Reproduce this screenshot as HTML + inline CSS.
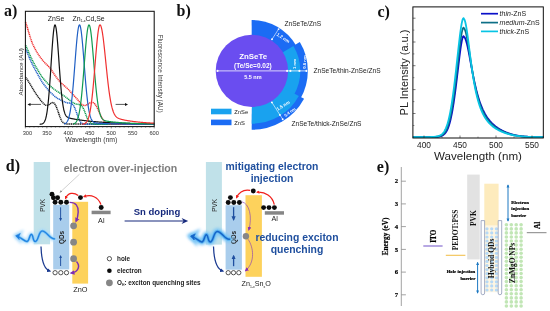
<!DOCTYPE html>
<html><head><meta charset="utf-8"><title>figure</title>
<style>
html,body{margin:0;padding:0;background:#fff;}
body{width:550px;height:311px;overflow:hidden;}
svg{display:block;}
.ss{font-family:"Liberation Sans",sans-serif;}
.sf{font-family:"Liberation Serif",serif;}
#fig{filter:blur(0.45px);}
</style></head><body>
<svg id="fig" width="550" height="311" viewBox="0 0 550 311">
<rect width="550" height="311" fill="#fff"/>
<defs>
<marker id="mr" viewBox="0 0 10 10" refX="6" refY="5" markerWidth="3.6" markerHeight="3.6" markerUnits="userSpaceOnUse" orient="auto-start-reverse"><path d="M0,0.5L10,5L0,9.5z" fill="#f0201c"/></marker>
<marker id="mp" viewBox="0 0 10 10" refX="6" refY="5" markerWidth="5" markerHeight="5" markerUnits="userSpaceOnUse" orient="auto-start-reverse"><path d="M0,0.5L10,5L0,9.5z" fill="#7d2db4"/></marker>
<marker id="mp2" viewBox="0 0 10 10" refX="7" refY="5" markerWidth="4.2" markerHeight="4.2" markerUnits="userSpaceOnUse" orient="auto-start-reverse"><path d="M0,0.5L10,5L0,9.5z" fill="#8a2fb8"/></marker>
<marker id="mb" viewBox="0 0 10 10" refX="7" refY="5" markerWidth="4.5" markerHeight="4.5" orient="auto-start-reverse"><path d="M0,0.5L10,5L0,9.5z" fill="#1f4fa0"/></marker>
<marker id="mb2" viewBox="0 0 10 10" refX="7" refY="5" markerWidth="3.6" markerHeight="3.6" orient="auto-start-reverse"><path d="M0,0.5L10,5L0,9.5z" fill="#1f4fa0"/></marker>
<marker id="mb3" viewBox="0 0 10 10" refX="6" refY="5" markerWidth="4.4" markerHeight="4.4" markerUnits="userSpaceOnUse" orient="auto-start-reverse"><path d="M0,0.5L10,5L0,9.5z" fill="#1a3a90"/></marker>
<marker id="mg" viewBox="0 0 10 10" refX="7" refY="5" markerWidth="6" markerHeight="6" orient="auto-start-reverse"><path d="M0,1L10,5L0,9z" fill="#888"/></marker>
<marker id="me" viewBox="0 0 10 10" refX="8" refY="5" markerWidth="3.2" markerHeight="3.2" markerUnits="userSpaceOnUse" orient="auto-start-reverse"><path d="M0,0.5L10,5L0,9.5z" fill="#1c78c2"/></marker>
<filter id="glow" filterUnits="userSpaceOnUse" x="0" y="215" width="80" height="45"><feGaussianBlur stdDeviation="1.6"/></filter>
<filter id="glow2" filterUnits="userSpaceOnUse" x="0" y="215" width="80" height="45"><feGaussianBlur stdDeviation="0.7"/></filter>
</defs>
<g id="pa">
<path d="M25.40,77.27 L25.72,77.56 L26.05,77.89 L26.37,78.27 L26.69,78.70 L27.01,79.17 L27.34,79.69 L27.66,80.22 L27.98,80.74 L28.31,81.26 L28.63,81.78 L28.95,82.31 L29.27,82.83 L29.60,83.36 L29.92,83.89 L30.24,84.42 L30.56,84.95 L30.89,85.48 L31.21,86.02 L31.53,86.56 L31.86,87.09 L32.18,87.63 L32.50,88.17 L32.82,88.71 L33.15,89.25 L33.47,89.78 L33.79,90.32 L34.12,90.86 L34.44,91.40 L34.76,91.92 L35.08,92.44 L35.41,92.95 L35.73,93.44 L36.05,93.93 L36.38,94.41 L36.70,94.88 L37.02,95.34 L37.34,95.78 L37.67,96.22 L37.99,96.65 L38.31,97.08 L38.64,97.51 L38.96,97.94 L39.28,98.37 L39.60,98.80 L39.93,99.24 L40.25,99.67 L40.57,100.09 L40.89,100.50 L41.22,100.90 L41.54,101.29 L41.86,101.67 L42.19,102.04 L42.51,102.40 L42.83,102.74 L43.15,103.08 L43.48,103.40 L43.80,103.71 L44.12,104.02 L44.45,104.32 L44.77,104.58 L45.09,104.81 L45.41,105.01 L45.74,105.17 L46.06,105.29 L46.38,105.38 L46.71,105.44 L47.03,105.45 L47.35,105.42 L47.67,105.33 L48.00,105.19 L48.32,105.04 L48.64,104.88 L48.96,104.69 L49.29,104.49 L49.61,104.28 L49.93,104.04 L50.26,103.80 L50.58,103.54 L50.90,103.28 L51.22,103.07 L51.55,102.89 L51.87,102.76 L52.19,102.67 L52.52,102.62 L52.84,102.61 L53.16,102.64 L53.48,102.73 L53.81,102.91 L54.13,103.20 L54.45,103.57 L54.78,104.01 L55.10,104.50 L55.42,105.04 L55.74,105.64 L56.07,106.30 L56.39,107.01 L56.71,107.80 L57.04,108.65 L57.36,109.52 L57.68,110.41 L58.00,111.32 L58.33,112.25 L58.65,113.20 L58.97,114.16 L59.29,115.09 L59.62,116.00 L59.94,116.88 L60.26,117.71 L60.59,118.50 L60.91,119.23 L61.23,119.93 L61.55,120.55 L61.88,121.09 L62.20,121.55 L62.52,121.94 L62.85,122.28 L63.17,122.60 L63.49,122.87 L63.81,123.11 L64.14,123.31 L64.46,123.47 L64.78,123.58 L65.11,123.67 L65.43,123.74 L65.75,123.81 L66.07,123.87 L66.40,123.91 L66.72,123.95 L67.04,123.98 L67.36,124.00 L67.69,124.01 L68.01,124.01 L68.33,124.01 L68.66,124.01 L68.98,124.01 L69.30,124.01 L69.62,124.01 L69.95,124.01 L70.27,124.01 L70.59,124.02 L70.92,124.02 L71.24,124.02 L71.56,124.02 L71.88,124.02 L72.21,124.02 L72.53,124.02 L72.85,124.02 L73.18,124.02 L73.50,124.03 L73.82,124.03 L74.14,124.03 L74.47,124.03 L74.79,124.03 L75.11,124.03 L75.44,124.03 L75.76,124.03 L76.08,124.03 L76.40,124.04 L76.73,124.04 L77.05,124.04 L77.37,124.04 L77.69,124.04 L78.02,124.04 L78.34,124.04 L78.66,124.04 L78.99,124.04 L79.31,124.05 L79.63,124.05 L79.95,124.05 L80.28,124.05 L80.60,124.05 L80.92,124.05 L81.25,124.05 L81.57,124.05 L81.89,124.05 L82.21,124.06 L82.54,124.06 L82.86,124.06 L83.18,124.06 L83.51,124.06 L83.83,124.06 L84.15,124.06 L84.47,124.06 L84.80,124.06 L85.12,124.07 L85.44,124.07 L85.76,124.07 L86.09,124.07 L86.41,124.07 L86.73,124.07 L87.06,124.07 L87.38,124.07 L87.70,124.07 L88.02,124.08 L88.35,124.08 L88.67,124.08 L88.99,124.08 L89.32,124.08 L89.64,124.08 L89.96,124.08 L90.28,124.08 L90.61,124.08 L90.93,124.08 L91.25,124.09 L91.58,124.09 L91.90,124.09 L92.22,124.09 L92.54,124.09 L92.87,124.09 L93.19,124.09 L93.51,124.09 L93.84,124.09 L94.16,124.10 L94.48,124.10 L94.80,124.10 L95.13,124.10 L95.45,124.10 L95.77,124.10 L96.09,124.10 L96.42,124.10 L96.74,124.10 L97.06,124.11 L97.39,124.11 L97.71,124.11 L98.03,124.11 L98.35,124.11 L98.68,124.11 L99.00,124.11 L99.32,124.11 L99.65,124.11 L99.97,124.12 L100.29,124.12 L100.61,124.12 L100.94,124.12 L101.26,124.12 L101.58,124.12 L101.91,124.12 L102.23,124.12 L102.55,124.12 L102.87,124.13 L103.20,124.13 L103.52,124.13 L103.84,124.13 L104.16,124.13 L104.49,124.13 L104.81,124.13 L105.13,124.13 L105.46,124.13 L105.78,124.14 L106.10,124.14 L106.42,124.14 L106.75,124.14 L107.07,124.14 L107.39,124.14 L107.72,124.14 L108.04,124.14 L108.36,124.14 L108.68,124.15 L109.01,124.15 L109.33,124.15 L109.65,124.15 L109.98,124.15 L110.30,124.15 L110.62,124.15 L110.94,124.15 L111.27,124.15 L111.59,124.16 L111.91,124.16 L112.24,124.16 L112.56,124.16 L112.88,124.16 L113.20,124.16 L113.53,124.16 L113.85,124.16 L114.17,124.16 L114.49,124.17 L114.82,124.17 L115.14,124.17 L115.46,124.17 L115.79,124.17 L116.11,124.17 L116.43,124.17 L116.75,124.17 L117.08,124.17 L117.40,124.18 L117.72,124.18 L118.05,124.18 L118.37,124.18 L118.69,124.18 L119.01,124.18 L119.34,124.18 L119.66,124.18 L119.98,124.18 L120.31,124.19 L120.63,124.19 L120.95,124.19 L121.27,124.19 L121.60,124.19 L121.92,124.19 L122.24,124.19 L122.56,124.19 L122.89,124.19 L123.21,124.20 L123.53,124.20 L123.86,124.20 L124.18,124.20 L124.50,124.20 L124.82,124.20 L125.15,124.20 L125.47,124.20 L125.79,124.20 L126.12,124.20 L126.44,124.21 L126.76,124.21 L127.08,124.21 L127.41,124.21 L127.73,124.21 L128.05,124.21 L128.38,124.21 L128.70,124.21 L129.02,124.21 L129.34,124.22 L129.67,124.22 L129.99,124.22 L130.31,124.22 L130.64,124.22 L130.96,124.22 L131.28,124.22 L131.60,124.22 L131.93,124.22 L132.25,124.23 L132.57,124.23 L132.89,124.23 L133.22,124.23 L133.54,124.23 L133.86,124.23 L134.19,124.23 L134.51,124.23 L134.83,124.23 L135.15,124.24 L135.48,124.24 L135.80,124.24 L136.12,124.24 L136.45,124.24 L136.77,124.24 L137.09,124.24 L137.41,124.24 L137.74,124.24 L138.06,124.25 L138.38,124.25 L138.71,124.25 L139.03,124.25 L139.35,124.25 L139.67,124.25 L140.00,124.25 L140.32,124.25 L140.64,124.25 L140.96,124.26 L141.29,124.26 L141.61,124.26 L141.93,124.26 L142.26,124.26 L142.58,124.26 L142.90,124.26 L143.22,124.26 L143.55,124.26 L143.87,124.27 L144.19,124.27 L144.52,124.27 L144.84,124.27 L145.16,124.27 L145.48,124.27 L145.81,124.27 L146.13,124.27 L146.45,124.27 L146.78,124.28 L147.10,124.28 L147.42,124.28 L147.74,124.28 L148.07,124.28 L148.39,124.28 L148.71,124.28 L149.04,124.28 L149.36,124.28 L149.68,124.29 L150.00,124.29 L150.33,124.29 L150.65,124.29 L150.97,124.29 L151.29,124.29 L151.62,124.29 L151.94,124.29 L152.26,124.29 L152.59,124.30 L152.91,124.30 L153.23,124.30 L153.55,124.30 L153.88,124.30 L154.20,124.30" fill="none" stroke="#1a1a1a" stroke-width="1.5" stroke-dasharray="1.2 0.6"/>
<path d="M25.40,48.88 L25.72,49.33 L26.05,49.85 L26.37,50.45 L26.69,51.13 L27.01,51.88 L27.34,52.70 L27.66,53.52 L27.98,54.35 L28.31,55.17 L28.63,55.99 L28.95,56.78 L29.27,57.56 L29.60,58.33 L29.92,59.08 L30.24,59.81 L30.56,60.53 L30.89,61.24 L31.21,61.92 L31.53,62.60 L31.86,63.25 L32.18,63.91 L32.50,64.56 L32.82,65.21 L33.15,65.86 L33.47,66.50 L33.79,67.13 L34.12,67.76 L34.44,68.38 L34.76,68.99 L35.08,69.60 L35.41,70.20 L35.73,70.79 L36.05,71.37 L36.38,71.95 L36.70,72.53 L37.02,73.10 L37.34,73.68 L37.67,74.26 L37.99,74.83 L38.31,75.41 L38.64,75.99 L38.96,76.56 L39.28,77.14 L39.60,77.72 L39.93,78.30 L40.25,78.87 L40.57,79.44 L40.89,79.99 L41.22,80.53 L41.54,81.06 L41.86,81.57 L42.19,82.06 L42.51,82.54 L42.83,83.01 L43.15,83.46 L43.48,83.89 L43.80,84.31 L44.12,84.73 L44.45,85.14 L44.77,85.56 L45.09,85.97 L45.41,86.39 L45.74,86.80 L46.06,87.22 L46.38,87.63 L46.71,88.05 L47.03,88.46 L47.35,88.88 L47.67,89.29 L48.00,89.68 L48.32,90.07 L48.64,90.44 L48.96,90.80 L49.29,91.16 L49.61,91.50 L49.93,91.83 L50.26,92.15 L50.58,92.47 L50.90,92.77 L51.22,93.07 L51.55,93.37 L51.87,93.67 L52.19,93.96 L52.52,94.26 L52.84,94.56 L53.16,94.86 L53.48,95.16 L53.81,95.46 L54.13,95.76 L54.45,96.06 L54.78,96.35 L55.10,96.62 L55.42,96.88 L55.74,97.14 L56.07,97.38 L56.39,97.61 L56.71,97.82 L57.04,98.03 L57.36,98.22 L57.68,98.41 L58.00,98.58 L58.33,98.76 L58.65,98.93 L58.97,99.11 L59.29,99.28 L59.62,99.46 L59.94,99.63 L60.26,99.80 L60.59,99.98 L60.91,100.15 L61.23,100.33 L61.55,100.50 L61.88,100.68 L62.20,100.84 L62.52,101.01 L62.85,101.16 L63.17,101.32 L63.49,101.47 L63.81,101.61 L64.14,101.75 L64.46,101.88 L64.78,102.01 L65.11,102.13 L65.43,102.25 L65.75,102.37 L66.07,102.49 L66.40,102.61 L66.72,102.71 L67.04,102.81 L67.36,102.89 L67.69,102.95 L68.01,103.01 L68.33,103.05 L68.66,103.08 L68.98,103.10 L69.30,103.10 L69.62,103.11 L69.95,103.14 L70.27,103.19 L70.59,103.26 L70.92,103.37 L71.24,103.50 L71.56,103.65 L71.88,103.84 L72.21,104.05 L72.53,104.31 L72.85,104.65 L73.18,105.07 L73.50,105.54 L73.82,106.07 L74.14,106.66 L74.47,107.30 L74.79,108.01 L75.11,108.78 L75.44,109.60 L75.76,110.48 L76.08,111.39 L76.40,112.30 L76.73,113.21 L77.05,114.12 L77.37,115.03 L77.69,115.94 L78.02,116.83 L78.34,117.66 L78.66,118.44 L78.99,119.17 L79.31,119.84 L79.63,120.47 L79.95,121.04 L80.28,121.56 L80.60,122.01 L80.92,122.39 L81.25,122.69 L81.57,122.93 L81.89,123.14 L82.21,123.33 L82.54,123.49 L82.86,123.62 L83.18,123.73 L83.51,123.82 L83.83,123.87 L84.15,123.92 L84.47,123.97 L84.80,124.01 L85.12,124.05 L85.44,124.09 L85.76,124.12 L86.09,124.14 L86.41,124.16 L86.73,124.18 L87.06,124.19 L87.38,124.20 L87.70,124.20 L88.02,124.20 L88.35,124.20 L88.67,124.20 L88.99,124.20 L89.32,124.20 L89.64,124.21 L89.96,124.21 L90.28,124.21 L90.61,124.21 L90.93,124.21 L91.25,124.21 L91.58,124.21 L91.90,124.21 L92.22,124.21 L92.54,124.21 L92.87,124.21 L93.19,124.21 L93.51,124.21 L93.84,124.21 L94.16,124.21 L94.48,124.21 L94.80,124.21 L95.13,124.21 L95.45,124.21 L95.77,124.21 L96.09,124.21 L96.42,124.22 L96.74,124.22 L97.06,124.22 L97.39,124.22 L97.71,124.22 L98.03,124.22 L98.35,124.22 L98.68,124.22 L99.00,124.22 L99.32,124.22 L99.65,124.22 L99.97,124.22 L100.29,124.22 L100.61,124.22 L100.94,124.22 L101.26,124.22 L101.58,124.22 L101.91,124.22 L102.23,124.22 L102.55,124.22 L102.87,124.22 L103.20,124.23 L103.52,124.23 L103.84,124.23 L104.16,124.23 L104.49,124.23 L104.81,124.23 L105.13,124.23 L105.46,124.23 L105.78,124.23 L106.10,124.23 L106.42,124.23 L106.75,124.23 L107.07,124.23 L107.39,124.23 L107.72,124.23 L108.04,124.23 L108.36,124.23 L108.68,124.23 L109.01,124.23 L109.33,124.23 L109.65,124.23 L109.98,124.24 L110.30,124.24 L110.62,124.24 L110.94,124.24 L111.27,124.24 L111.59,124.24 L111.91,124.24 L112.24,124.24 L112.56,124.24 L112.88,124.24 L113.20,124.24 L113.53,124.24 L113.85,124.24 L114.17,124.24 L114.49,124.24 L114.82,124.24 L115.14,124.24 L115.46,124.24 L115.79,124.24 L116.11,124.24 L116.43,124.24 L116.75,124.25 L117.08,124.25 L117.40,124.25 L117.72,124.25 L118.05,124.25 L118.37,124.25 L118.69,124.25 L119.01,124.25 L119.34,124.25 L119.66,124.25 L119.98,124.25 L120.31,124.25 L120.63,124.25 L120.95,124.25 L121.27,124.25 L121.60,124.25 L121.92,124.25 L122.24,124.25 L122.56,124.25 L122.89,124.25 L123.21,124.25 L123.53,124.26 L123.86,124.26 L124.18,124.26 L124.50,124.26 L124.82,124.26 L125.15,124.26 L125.47,124.26 L125.79,124.26 L126.12,124.26 L126.44,124.26 L126.76,124.26 L127.08,124.26 L127.41,124.26 L127.73,124.26 L128.05,124.26 L128.38,124.26 L128.70,124.26 L129.02,124.26 L129.34,124.26 L129.67,124.26 L129.99,124.26 L130.31,124.27 L130.64,124.27 L130.96,124.27 L131.28,124.27 L131.60,124.27 L131.93,124.27 L132.25,124.27 L132.57,124.27 L132.89,124.27 L133.22,124.27 L133.54,124.27 L133.86,124.27 L134.19,124.27 L134.51,124.27 L134.83,124.27 L135.15,124.27 L135.48,124.27 L135.80,124.27 L136.12,124.27 L136.45,124.27 L136.77,124.27 L137.09,124.28 L137.41,124.28 L137.74,124.28 L138.06,124.28 L138.38,124.28 L138.71,124.28 L139.03,124.28 L139.35,124.28 L139.67,124.28 L140.00,124.28 L140.32,124.28 L140.64,124.28 L140.96,124.28 L141.29,124.28 L141.61,124.28 L141.93,124.28 L142.26,124.28 L142.58,124.28 L142.90,124.28 L143.22,124.28 L143.55,124.28 L143.87,124.29 L144.19,124.29 L144.52,124.29 L144.84,124.29 L145.16,124.29 L145.48,124.29 L145.81,124.29 L146.13,124.29 L146.45,124.29 L146.78,124.29 L147.10,124.29 L147.42,124.29 L147.74,124.29 L148.07,124.29 L148.39,124.29 L148.71,124.29 L149.04,124.29 L149.36,124.29 L149.68,124.29 L150.00,124.29 L150.33,124.29 L150.65,124.30 L150.97,124.30 L151.29,124.30 L151.62,124.30 L151.94,124.30 L152.26,124.30 L152.59,124.30 L152.91,124.30 L153.23,124.30 L153.55,124.30 L153.88,124.30 L154.20,124.30" fill="none" stroke="#1f5fc4" stroke-width="1.5" stroke-dasharray="1.2 0.6"/>
<path d="M25.40,45.32 L25.72,45.75 L26.05,46.26 L26.37,46.83 L26.69,47.48 L27.01,48.19 L27.34,48.98 L27.66,49.77 L27.98,50.56 L28.31,51.35 L28.63,52.13 L28.95,52.90 L29.27,53.65 L29.60,54.39 L29.92,55.12 L30.24,55.84 L30.56,56.54 L30.89,57.23 L31.21,57.90 L31.53,58.56 L31.86,59.21 L32.18,59.86 L32.50,60.50 L32.82,61.15 L33.15,61.79 L33.47,62.41 L33.79,63.03 L34.12,63.64 L34.44,64.24 L34.76,64.83 L35.08,65.41 L35.41,65.98 L35.73,66.54 L36.05,67.09 L36.38,67.63 L36.70,68.16 L37.02,68.70 L37.34,69.24 L37.67,69.78 L37.99,70.32 L38.31,70.85 L38.64,71.39 L38.96,71.93 L39.28,72.47 L39.60,73.01 L39.93,73.54 L40.25,74.08 L40.57,74.61 L40.89,75.12 L41.22,75.62 L41.54,76.11 L41.86,76.57 L42.19,77.03 L42.51,77.46 L42.83,77.88 L43.15,78.29 L43.48,78.68 L43.80,79.06 L44.12,79.43 L44.45,79.79 L44.77,80.16 L45.09,80.53 L45.41,80.90 L45.74,81.27 L46.06,81.64 L46.38,82.01 L46.71,82.38 L47.03,82.75 L47.35,83.12 L47.67,83.48 L48.00,83.83 L48.32,84.17 L48.64,84.50 L48.96,84.83 L49.29,85.14 L49.61,85.45 L49.93,85.75 L50.26,86.04 L50.58,86.31 L50.90,86.58 L51.22,86.85 L51.55,87.12 L51.87,87.39 L52.19,87.66 L52.52,87.93 L52.84,88.20 L53.16,88.47 L53.48,88.73 L53.81,89.00 L54.13,89.25 L54.45,89.50 L54.78,89.74 L55.10,89.97 L55.42,90.20 L55.74,90.43 L56.07,90.64 L56.39,90.85 L56.71,91.06 L57.04,91.25 L57.36,91.45 L57.68,91.65 L58.00,91.85 L58.33,92.05 L58.65,92.25 L58.97,92.45 L59.29,92.65 L59.62,92.85 L59.94,93.05 L60.26,93.26 L60.59,93.47 L60.91,93.68 L61.23,93.90 L61.55,94.12 L61.88,94.34 L62.20,94.56 L62.52,94.79 L62.85,95.02 L63.17,95.25 L63.49,95.49 L63.81,95.72 L64.14,95.95 L64.46,96.18 L64.78,96.41 L65.11,96.64 L65.43,96.87 L65.75,97.11 L66.07,97.35 L66.40,97.59 L66.72,97.84 L67.04,98.08 L67.36,98.34 L67.69,98.59 L68.01,98.85 L68.33,99.11 L68.66,99.38 L68.98,99.65 L69.30,99.92 L69.62,100.19 L69.95,100.46 L70.27,100.72 L70.59,100.98 L70.92,101.23 L71.24,101.47 L71.56,101.70 L71.88,101.92 L72.21,102.13 L72.53,102.33 L72.85,102.53 L73.18,102.71 L73.50,102.89 L73.82,103.06 L74.14,103.23 L74.47,103.39 L74.79,103.55 L75.11,103.68 L75.44,103.81 L75.76,103.92 L76.08,104.02 L76.40,104.11 L76.73,104.18 L77.05,104.24 L77.37,104.28 L77.69,104.32 L78.02,104.36 L78.34,104.41 L78.66,104.46 L78.99,104.53 L79.31,104.60 L79.63,104.69 L79.95,104.78 L80.28,104.88 L80.60,105.02 L80.92,105.23 L81.25,105.49 L81.57,105.80 L81.89,106.16 L82.21,106.58 L82.54,107.05 L82.86,107.57 L83.18,108.15 L83.51,108.79 L83.83,109.50 L84.15,110.26 L84.47,111.04 L84.80,111.85 L85.12,112.68 L85.44,113.53 L85.76,114.41 L86.09,115.29 L86.41,116.14 L86.73,116.97 L87.06,117.77 L87.38,118.52 L87.70,119.22 L88.02,119.88 L88.35,120.49 L88.67,121.03 L88.99,121.48 L89.32,121.86 L89.64,122.19 L89.96,122.48 L90.28,122.74 L90.61,122.97 L90.93,123.17 L91.25,123.34 L91.58,123.47 L91.90,123.57 L92.22,123.67 L92.54,123.76 L92.87,123.84 L93.19,123.92 L93.51,123.98 L93.84,124.04 L94.16,124.09 L94.48,124.13 L94.80,124.16 L95.13,124.18 L95.45,124.20 L95.77,124.20 L96.09,124.20 L96.42,124.20 L96.74,124.20 L97.06,124.21 L97.39,124.21 L97.71,124.21 L98.03,124.21 L98.35,124.21 L98.68,124.21 L99.00,124.21 L99.32,124.21 L99.65,124.21 L99.97,124.21 L100.29,124.21 L100.61,124.21 L100.94,124.21 L101.26,124.21 L101.58,124.21 L101.91,124.21 L102.23,124.21 L102.55,124.21 L102.87,124.21 L103.20,124.22 L103.52,124.22 L103.84,124.22 L104.16,124.22 L104.49,124.22 L104.81,124.22 L105.13,124.22 L105.46,124.22 L105.78,124.22 L106.10,124.22 L106.42,124.22 L106.75,124.22 L107.07,124.22 L107.39,124.22 L107.72,124.22 L108.04,124.22 L108.36,124.22 L108.68,124.22 L109.01,124.23 L109.33,124.23 L109.65,124.23 L109.98,124.23 L110.30,124.23 L110.62,124.23 L110.94,124.23 L111.27,124.23 L111.59,124.23 L111.91,124.23 L112.24,124.23 L112.56,124.23 L112.88,124.23 L113.20,124.23 L113.53,124.23 L113.85,124.23 L114.17,124.23 L114.49,124.23 L114.82,124.23 L115.14,124.24 L115.46,124.24 L115.79,124.24 L116.11,124.24 L116.43,124.24 L116.75,124.24 L117.08,124.24 L117.40,124.24 L117.72,124.24 L118.05,124.24 L118.37,124.24 L118.69,124.24 L119.01,124.24 L119.34,124.24 L119.66,124.24 L119.98,124.24 L120.31,124.24 L120.63,124.24 L120.95,124.24 L121.27,124.25 L121.60,124.25 L121.92,124.25 L122.24,124.25 L122.56,124.25 L122.89,124.25 L123.21,124.25 L123.53,124.25 L123.86,124.25 L124.18,124.25 L124.50,124.25 L124.82,124.25 L125.15,124.25 L125.47,124.25 L125.79,124.25 L126.12,124.25 L126.44,124.25 L126.76,124.25 L127.08,124.26 L127.41,124.26 L127.73,124.26 L128.05,124.26 L128.38,124.26 L128.70,124.26 L129.02,124.26 L129.34,124.26 L129.67,124.26 L129.99,124.26 L130.31,124.26 L130.64,124.26 L130.96,124.26 L131.28,124.26 L131.60,124.26 L131.93,124.26 L132.25,124.26 L132.57,124.26 L132.89,124.26 L133.22,124.27 L133.54,124.27 L133.86,124.27 L134.19,124.27 L134.51,124.27 L134.83,124.27 L135.15,124.27 L135.48,124.27 L135.80,124.27 L136.12,124.27 L136.45,124.27 L136.77,124.27 L137.09,124.27 L137.41,124.27 L137.74,124.27 L138.06,124.27 L138.38,124.27 L138.71,124.27 L139.03,124.28 L139.35,124.28 L139.67,124.28 L140.00,124.28 L140.32,124.28 L140.64,124.28 L140.96,124.28 L141.29,124.28 L141.61,124.28 L141.93,124.28 L142.26,124.28 L142.58,124.28 L142.90,124.28 L143.22,124.28 L143.55,124.28 L143.87,124.28 L144.19,124.28 L144.52,124.28 L144.84,124.28 L145.16,124.29 L145.48,124.29 L145.81,124.29 L146.13,124.29 L146.45,124.29 L146.78,124.29 L147.10,124.29 L147.42,124.29 L147.74,124.29 L148.07,124.29 L148.39,124.29 L148.71,124.29 L149.04,124.29 L149.36,124.29 L149.68,124.29 L150.00,124.29 L150.33,124.29 L150.65,124.29 L150.97,124.29 L151.29,124.30 L151.62,124.30 L151.94,124.30 L152.26,124.30 L152.59,124.30 L152.91,124.30 L153.23,124.30 L153.55,124.30 L153.88,124.30 L154.20,124.30" fill="none" stroke="#109a50" stroke-width="1.5" stroke-dasharray="1.2 0.6"/>
<path d="M25.40,22.00 L25.72,22.65 L26.05,23.41 L26.37,24.28 L26.69,25.25 L27.01,26.31 L27.34,27.47 L27.66,28.62 L27.98,29.75 L28.31,30.87 L28.63,31.98 L28.95,33.08 L29.27,34.16 L29.60,35.23 L29.92,36.29 L30.24,37.32 L30.56,38.32 L30.89,39.28 L31.21,40.21 L31.53,41.11 L31.86,41.97 L32.18,42.79 L32.50,43.59 L32.82,44.35 L33.15,45.07 L33.47,45.76 L33.79,46.42 L34.12,47.07 L34.44,47.71 L34.76,48.33 L35.08,48.94 L35.41,49.53 L35.73,50.11 L36.05,50.68 L36.38,51.23 L36.70,51.76 L37.02,52.29 L37.34,52.82 L37.67,53.34 L37.99,53.86 L38.31,54.36 L38.64,54.86 L38.96,55.34 L39.28,55.82 L39.60,56.28 L39.93,56.74 L40.25,57.18 L40.57,57.61 L40.89,58.04 L41.22,58.45 L41.54,58.86 L41.86,59.27 L42.19,59.68 L42.51,60.09 L42.83,60.49 L43.15,60.88 L43.48,61.26 L43.80,61.63 L44.12,62.00 L44.45,62.35 L44.77,62.69 L45.09,63.03 L45.41,63.35 L45.74,63.67 L46.06,63.98 L46.38,64.29 L46.71,64.60 L47.03,64.91 L47.35,65.22 L47.67,65.53 L48.00,65.86 L48.32,66.19 L48.64,66.53 L48.96,66.88 L49.29,67.23 L49.61,67.59 L49.93,67.97 L50.26,68.37 L50.58,68.78 L50.90,69.22 L51.22,69.66 L51.55,70.12 L51.87,70.59 L52.19,71.06 L52.52,71.55 L52.84,72.06 L53.16,72.57 L53.48,73.08 L53.81,73.58 L54.13,74.08 L54.45,74.56 L54.78,75.04 L55.10,75.51 L55.42,75.97 L55.74,76.42 L56.07,76.86 L56.39,77.29 L56.71,77.71 L57.04,78.13 L57.36,78.55 L57.68,78.96 L58.00,79.38 L58.33,79.79 L58.65,80.19 L58.97,80.58 L59.29,80.96 L59.62,81.33 L59.94,81.68 L60.26,82.03 L60.59,82.36 L60.91,82.68 L61.23,82.99 L61.55,83.29 L61.88,83.58 L62.20,83.87 L62.52,84.16 L62.85,84.45 L63.17,84.74 L63.49,85.03 L63.81,85.32 L64.14,85.61 L64.46,85.89 L64.78,86.18 L65.11,86.47 L65.43,86.75 L65.75,87.03 L66.07,87.31 L66.40,87.60 L66.72,87.89 L67.04,88.18 L67.36,88.48 L67.69,88.79 L68.01,89.11 L68.33,89.43 L68.66,89.76 L68.98,90.10 L69.30,90.44 L69.62,90.79 L69.95,91.14 L70.27,91.50 L70.59,91.85 L70.92,92.21 L71.24,92.56 L71.56,92.92 L71.88,93.27 L72.21,93.63 L72.53,93.98 L72.85,94.34 L73.18,94.70 L73.50,95.05 L73.82,95.41 L74.14,95.76 L74.47,96.12 L74.79,96.48 L75.11,96.83 L75.44,97.19 L75.76,97.55 L76.08,97.90 L76.40,98.26 L76.73,98.62 L77.05,98.99 L77.37,99.36 L77.69,99.74 L78.02,100.12 L78.34,100.51 L78.66,100.90 L78.99,101.29 L79.31,101.69 L79.63,102.08 L79.95,102.45 L80.28,102.81 L80.60,103.15 L80.92,103.48 L81.25,103.79 L81.57,104.08 L81.89,104.35 L82.21,104.61 L82.54,104.83 L82.86,105.01 L83.18,105.16 L83.51,105.27 L83.83,105.36 L84.15,105.43 L84.47,105.46 L84.80,105.47 L85.12,105.45 L85.44,105.39 L85.76,105.30 L86.09,105.18 L86.41,105.06 L86.73,104.91 L87.06,104.75 L87.38,104.58 L87.70,104.39 L88.02,104.19 L88.35,103.98 L88.67,103.75 L88.99,103.51 L89.32,103.26 L89.64,103.04 L89.96,102.85 L90.28,102.69 L90.61,102.55 L90.93,102.44 L91.25,102.36 L91.58,102.31 L91.90,102.28 L92.22,102.28 L92.54,102.33 L92.87,102.45 L93.19,102.60 L93.51,102.80 L93.84,103.03 L94.16,103.30 L94.48,103.60 L94.80,103.95 L95.13,104.33 L95.45,104.75 L95.77,105.23 L96.09,105.76 L96.42,106.32 L96.74,106.90 L97.06,107.50 L97.39,108.14 L97.71,108.79 L98.03,109.47 L98.35,110.18 L98.68,110.90 L99.00,111.64 L99.32,112.36 L99.65,113.08 L99.97,113.78 L100.29,114.48 L100.61,115.17 L100.94,115.84 L101.26,116.51 L101.58,117.15 L101.91,117.75 L102.23,118.31 L102.55,118.85 L102.87,119.36 L103.20,119.85 L103.52,120.30 L103.84,120.72 L104.16,121.11 L104.49,121.47 L104.81,121.78 L105.13,122.05 L105.46,122.30 L105.78,122.53 L106.10,122.74 L106.42,122.93 L106.75,123.10 L107.07,123.24 L107.39,123.37 L107.72,123.47 L108.04,123.56 L108.36,123.65 L108.68,123.73 L109.01,123.80 L109.33,123.87 L109.65,123.93 L109.98,123.98 L110.30,124.02 L110.62,124.05 L110.94,124.08 L111.27,124.10 L111.59,124.11 L111.91,124.11 L112.24,124.11 L112.56,124.11 L112.88,124.11 L113.20,124.11 L113.53,124.12 L113.85,124.12 L114.17,124.12 L114.49,124.12 L114.82,124.12 L115.14,124.12 L115.46,124.12 L115.79,124.13 L116.11,124.13 L116.43,124.13 L116.75,124.13 L117.08,124.13 L117.40,124.13 L117.72,124.14 L118.05,124.14 L118.37,124.14 L118.69,124.14 L119.01,124.14 L119.34,124.14 L119.66,124.14 L119.98,124.15 L120.31,124.15 L120.63,124.15 L120.95,124.15 L121.27,124.15 L121.60,124.15 L121.92,124.15 L122.24,124.16 L122.56,124.16 L122.89,124.16 L123.21,124.16 L123.53,124.16 L123.86,124.16 L124.18,124.16 L124.50,124.17 L124.82,124.17 L125.15,124.17 L125.47,124.17 L125.79,124.17 L126.12,124.17 L126.44,124.17 L126.76,124.18 L127.08,124.18 L127.41,124.18 L127.73,124.18 L128.05,124.18 L128.38,124.18 L128.70,124.18 L129.02,124.19 L129.34,124.19 L129.67,124.19 L129.99,124.19 L130.31,124.19 L130.64,124.19 L130.96,124.20 L131.28,124.20 L131.60,124.20 L131.93,124.20 L132.25,124.20 L132.57,124.20 L132.89,124.20 L133.22,124.21 L133.54,124.21 L133.86,124.21 L134.19,124.21 L134.51,124.21 L134.83,124.21 L135.15,124.21 L135.48,124.22 L135.80,124.22 L136.12,124.22 L136.45,124.22 L136.77,124.22 L137.09,124.22 L137.41,124.22 L137.74,124.23 L138.06,124.23 L138.38,124.23 L138.71,124.23 L139.03,124.23 L139.35,124.23 L139.67,124.23 L140.00,124.24 L140.32,124.24 L140.64,124.24 L140.96,124.24 L141.29,124.24 L141.61,124.24 L141.93,124.25 L142.26,124.25 L142.58,124.25 L142.90,124.25 L143.22,124.25 L143.55,124.25 L143.87,124.25 L144.19,124.26 L144.52,124.26 L144.84,124.26 L145.16,124.26 L145.48,124.26 L145.81,124.26 L146.13,124.26 L146.45,124.27 L146.78,124.27 L147.10,124.27 L147.42,124.27 L147.74,124.27 L148.07,124.27 L148.39,124.27 L148.71,124.28 L149.04,124.28 L149.36,124.28 L149.68,124.28 L150.00,124.28 L150.33,124.28 L150.65,124.28 L150.97,124.29 L151.29,124.29 L151.62,124.29 L151.94,124.29 L152.26,124.29 L152.59,124.29 L152.91,124.29 L153.23,124.30 L153.55,124.30 L153.88,124.30 L154.20,124.30" fill="none" stroke="#f03030" stroke-width="1.5" stroke-dasharray="1.2 0.6"/>
<path d="M39.60,124.26 L39.93,124.24 L40.25,124.22 L40.57,124.19 L40.89,124.16 L41.22,124.11 L41.54,124.04 L41.86,123.96 L42.19,123.85 L42.51,123.71 L42.83,123.54 L43.15,123.31 L43.48,123.04 L43.80,122.69 L44.12,122.27 L44.45,121.75 L44.77,121.12 L45.09,120.36 L45.41,119.45 L45.74,118.38 L46.06,117.12 L46.38,115.65 L46.71,113.95 L47.03,111.99 L47.35,109.78 L47.67,107.27 L48.00,104.48 L48.32,101.38 L48.64,97.98 L48.96,94.28 L49.29,90.30 L49.61,86.04 L49.93,81.55 L50.26,76.86 L50.58,72.02 L50.90,67.07 L51.22,62.09 L51.55,57.13 L51.87,52.27 L52.19,47.58 L52.52,43.15 L52.84,39.05 L53.16,35.35 L53.48,32.13 L53.81,29.44 L54.13,27.34 L54.45,25.87 L54.78,25.06 L55.10,24.93 L55.42,25.42 L55.74,26.52 L56.07,28.20 L56.39,30.43 L56.71,33.17 L57.04,36.37 L57.36,39.97 L57.68,43.90 L58.00,48.10 L58.33,52.50 L58.65,57.02 L58.97,61.60 L59.29,66.18 L59.62,70.69 L59.94,75.09 L60.26,79.33 L60.59,83.37 L60.91,87.18 L61.23,90.74 L61.55,94.04 L61.88,97.07 L62.20,99.82 L62.52,102.30 L62.85,104.52 L63.17,106.49 L63.49,108.22 L63.81,109.74 L64.14,111.05 L64.46,112.18 L64.78,113.16 L65.11,113.99 L65.43,114.69 L65.75,115.28 L66.07,115.79 L66.40,116.21 L66.72,116.56 L67.04,116.86 L67.36,117.11 L67.69,117.32 L68.01,117.50 L68.33,117.66 L68.66,117.79 L68.98,117.91 L69.30,118.02 L69.62,118.11 L69.95,118.20 L70.27,118.28 L70.59,118.36 L70.92,118.43 L71.24,118.50 L71.56,118.57 L71.88,118.63 L72.21,118.69 L72.53,118.75 L72.85,118.82 L73.18,118.87 L73.50,118.93 L73.82,118.99 L74.14,119.05 L74.47,119.10 L74.79,119.16 L75.11,119.22 L75.44,119.27 L75.76,119.32 L76.08,119.38 L76.40,119.43 L76.73,119.48 L77.05,119.53 L77.37,119.58 L77.69,119.64 L78.02,119.68 L78.34,119.73 L78.66,119.78 L78.99,119.83 L79.31,119.88 L79.63,119.93 L79.95,119.97 L80.28,120.02 L80.60,120.07 L80.92,120.11 L81.25,120.16 L81.57,120.20 L81.89,120.24 L82.21,120.29 L82.54,120.33 L82.86,120.37 L83.18,120.41 L83.51,120.46 L83.83,120.50 L84.15,120.54 L84.47,120.58 L84.80,120.62 L85.12,120.66 L85.44,120.70 L85.76,120.74 L86.09,120.77 L86.41,120.81 L86.73,120.85 L87.06,120.89 L87.38,120.92 L87.70,120.96 L88.02,120.99 L88.35,121.03 L88.67,121.06 L88.99,121.10 L89.32,121.13 L89.64,121.17 L89.96,121.20 L90.28,121.23 L90.61,121.27 L90.93,121.30 L91.25,121.33 L91.58,121.36 L91.90,121.39 L92.22,121.43 L92.54,121.46 L92.87,121.49 L93.19,121.52 L93.51,121.55 L93.84,121.58 L94.16,121.61 L94.48,121.63 L94.80,121.66 L95.13,121.69 L95.45,121.72 L95.77,121.75 L96.09,121.77 L96.42,121.80 L96.74,121.83 L97.06,121.85 L97.39,121.88 L97.71,121.91 L98.03,121.93 L98.35,121.96 L98.68,121.98 L99.00,122.01 L99.32,122.03 L99.65,122.06 L99.97,122.08 L100.29,122.10 L100.61,122.13 L100.94,122.15 L101.26,122.17 L101.58,122.20 L101.91,122.22 L102.23,122.24 L102.55,122.26 L102.87,122.28 L103.20,122.31 L103.52,122.33 L103.84,122.35 L104.16,122.37 L104.49,122.39 L104.81,122.41 L105.13,122.43 L105.46,122.45 L105.78,122.47 L106.10,122.49 L106.42,122.51 L106.75,122.53 L107.07,122.55 L107.39,122.57 L107.72,122.59 L108.04,122.60 L108.36,122.62 L108.68,122.64 L109.01,122.66 L109.33,122.67 L109.65,122.69 L109.98,122.71 L110.30,122.73 L110.62,122.74 L110.94,122.76 L111.27,122.78 L111.59,122.79 L111.91,122.81 L112.24,122.82 L112.56,122.84 L112.88,122.86 L113.20,122.87 L113.53,122.89 L113.85,122.90 L114.17,122.92 L114.49,122.93 L114.82,122.95 L115.14,122.96 L115.46,122.98 L115.79,122.99 L116.11,123.00 L116.43,123.02 L116.75,123.03 L117.08,123.04 L117.40,123.06 L117.72,123.07 L118.05,123.08 L118.37,123.10 L118.69,123.11 L119.01,123.12 L119.34,123.14 L119.66,123.15 L119.98,123.16 L120.31,123.17 L120.63,123.18 L120.95,123.20 L121.27,123.21 L121.60,123.22 L121.92,123.23 L122.24,123.24 L122.56,123.25 L122.89,123.27 L123.21,123.28 L123.53,123.29 L123.86,123.30 L124.18,123.31 L124.50,123.32 L124.82,123.33 L125.15,123.34 L125.47,123.35 L125.79,123.36 L126.12,123.37 L126.44,123.38 L126.76,123.39 L127.08,123.40 L127.41,123.41 L127.73,123.42 L128.05,123.43 L128.38,123.44 L128.70,123.45 L129.02,123.46 L129.34,123.47 L129.67,123.47 L129.99,123.48 L130.31,123.49 L130.64,123.50 L130.96,123.51 L131.28,123.52 L131.60,123.53 L131.93,123.53 L132.25,123.54 L132.57,123.55 L132.89,123.56 L133.22,123.57 L133.54,123.57 L133.86,123.58 L134.19,123.59 L134.51,123.60 L134.83,123.61 L135.15,123.61 L135.48,123.62 L135.80,123.63 L136.12,123.63 L136.45,123.64 L136.77,123.65 L137.09,123.66 L137.41,123.66 L137.74,123.67 L138.06,123.68 L138.38,123.68 L138.71,123.69 L139.03,123.70 L139.35,123.70 L139.67,123.71 L140.00,123.72 L140.32,123.72 L140.64,123.73 L140.96,123.73 L141.29,123.74 L141.61,123.75 L141.93,123.75 L142.26,123.76 L142.58,123.76 L142.90,123.77 L143.22,123.77 L143.55,123.78 L143.87,123.79 L144.19,123.79 L144.52,123.80 L144.84,123.80 L145.16,123.81 L145.48,123.81 L145.81,123.82 L146.13,123.82 L146.45,123.83 L146.78,123.83 L147.10,123.84 L147.42,123.84 L147.74,123.85 L148.07,123.85 L148.39,123.86 L148.71,123.86 L149.04,123.87 L149.36,123.87 L149.68,123.88 L150.00,123.88 L150.33,123.89 L150.65,123.89 L150.97,123.89 L151.29,123.90 L151.62,123.90 L151.94,123.91 L152.26,123.91 L152.59,123.92 L152.91,123.92 L153.23,123.92 L153.55,123.93 L153.88,123.93 L154.20,123.94" fill="none" stroke="#111" stroke-width="1.2"/>
<path d="M64.14,123.92 L64.46,123.83 L64.78,123.70 L65.11,123.56 L65.43,123.38 L65.75,123.16 L66.07,122.90 L66.40,122.58 L66.72,122.21 L67.04,121.76 L67.36,121.24 L67.69,120.62 L68.01,119.91 L68.33,119.08 L68.66,118.12 L68.98,117.03 L69.30,115.79 L69.62,114.38 L69.95,112.79 L70.27,111.02 L70.59,109.05 L70.92,106.87 L71.24,104.49 L71.56,101.88 L71.88,99.05 L72.21,96.01 L72.53,92.76 L72.85,89.31 L73.18,85.67 L73.50,81.86 L73.82,77.91 L74.14,73.84 L74.47,69.67 L74.79,65.46 L75.11,61.23 L75.44,57.03 L75.76,52.90 L76.08,48.89 L76.40,45.05 L76.73,41.42 L77.05,38.05 L77.37,34.99 L77.69,32.27 L78.02,29.93 L78.34,28.01 L78.66,26.53 L78.99,25.52 L79.31,24.99 L79.63,24.94 L79.95,25.37 L80.28,26.27 L80.60,27.62 L80.92,29.41 L81.25,31.62 L81.57,34.20 L81.89,37.13 L82.21,40.37 L82.54,43.87 L82.86,47.59 L83.18,51.49 L83.51,55.51 L83.83,59.61 L84.15,63.76 L84.47,67.90 L84.80,72.00 L85.12,76.02 L85.44,79.93 L85.76,83.71 L86.09,87.33 L86.41,90.77 L86.73,94.01 L87.06,97.06 L87.38,99.89 L87.70,102.52 L88.02,104.93 L88.35,107.13 L88.67,109.13 L88.99,110.93 L89.32,112.55 L89.64,113.99 L89.96,115.27 L90.28,116.40 L90.61,117.39 L90.93,118.26 L91.25,119.01 L91.58,119.65 L91.90,120.21 L92.22,120.69 L92.54,121.10 L92.87,121.44 L93.19,121.74 L93.51,121.98 L93.84,122.19 L94.16,122.37 L94.48,122.51 L94.80,122.64 L95.13,122.74 L95.45,122.83 L95.77,122.90 L96.09,122.97 L96.42,123.02 L96.74,123.07 L97.06,123.11 L97.39,123.14 L97.71,123.18 L98.03,123.21 L98.35,123.23 L98.68,123.26 L99.00,123.28 L99.32,123.30 L99.65,123.32 L99.97,123.34 L100.29,123.36 L100.61,123.37 L100.94,123.39 L101.26,123.41 L101.58,123.42 L101.91,123.44 L102.23,123.46 L102.55,123.47 L102.87,123.49 L103.20,123.50 L103.52,123.51 L103.84,123.53 L104.16,123.54 L104.49,123.56 L104.81,123.57 L105.13,123.58 L105.46,123.59 L105.78,123.61 L106.10,123.62 L106.42,123.63 L106.75,123.64 L107.07,123.66 L107.39,123.67 L107.72,123.68 L108.04,123.69 L108.36,123.70 L108.68,123.71 L109.01,123.72 L109.33,123.73 L109.65,123.74 L109.98,123.75 L110.30,123.76 L110.62,123.77 L110.94,123.78 L111.27,123.79 L111.59,123.80 L111.91,123.81 L112.24,123.82 L112.56,123.82 L112.88,123.83 L113.20,123.84 L113.53,123.85 L113.85,123.86 L114.17,123.87 L114.49,123.87 L114.82,123.88 L115.14,123.89 L115.46,123.90 L115.79,123.90 L116.11,123.91 L116.43,123.92 L116.75,123.92 L117.08,123.93 L117.40,123.94 L117.72,123.94 L118.05,123.95 L118.37,123.96 L118.69,123.96 L119.01,123.97 L119.34,123.97 L119.66,123.98 L119.98,123.99 L120.31,123.99 L120.63,124.00 L120.95,124.00 L121.27,124.01 L121.60,124.01 L121.92,124.02 L122.24,124.02 L122.56,124.03 L122.89,124.03 L123.21,124.04 L123.53,124.04 L123.86,124.05 L124.18,124.05 L124.50,124.06 L124.82,124.06 L125.15,124.06 L125.47,124.07 L125.79,124.07 L126.12,124.08 L126.44,124.08 L126.76,124.08 L127.08,124.09 L127.41,124.09 L127.73,124.10 L128.05,124.10 L128.38,124.10 L128.70,124.11 L129.02,124.11 L129.34,124.11 L129.67,124.12 L129.99,124.12 L130.31,124.12 L130.64,124.13 L130.96,124.13 L131.28,124.13 L131.60,124.14 L131.93,124.14 L132.25,124.14 L132.57,124.14 L132.89,124.15 L133.22,124.15 L133.54,124.15 L133.86,124.15 L134.19,124.16 L134.51,124.16 L134.83,124.16 L135.15,124.16 L135.48,124.17 L135.80,124.17 L136.12,124.17 L136.45,124.17 L136.77,124.18 L137.09,124.18 L137.41,124.18 L137.74,124.18 L138.06,124.18 L138.38,124.19 L138.71,124.19 L139.03,124.19 L139.35,124.19 L139.67,124.19 L140.00,124.20 L140.32,124.20 L140.64,124.20 L140.96,124.20 L141.29,124.20 L141.61,124.21 L141.93,124.21 L142.26,124.21 L142.58,124.21 L142.90,124.21 L143.22,124.21 L143.55,124.22 L143.87,124.22 L144.19,124.22 L144.52,124.22 L144.84,124.22 L145.16,124.22 L145.48,124.22 L145.81,124.23 L146.13,124.23 L146.45,124.23 L146.78,124.23 L147.10,124.23 L147.42,124.23 L147.74,124.23 L148.07,124.23 L148.39,124.24 L148.71,124.24 L149.04,124.24 L149.36,124.24 L149.68,124.24 L150.00,124.24 L150.33,124.24 L150.65,124.24 L150.97,124.24 L151.29,124.24 L151.62,124.25 L151.94,124.25 L152.26,124.25 L152.59,124.25 L152.91,124.25 L153.23,124.25 L153.55,124.25 L153.88,124.25 L154.20,124.25" fill="none" stroke="#1f5fc4" stroke-width="1.2"/>
<path d="M73.18,123.96 L73.50,123.87 L73.82,123.76 L74.14,123.63 L74.47,123.47 L74.79,123.27 L75.11,123.04 L75.44,122.76 L75.76,122.42 L76.08,122.03 L76.40,121.56 L76.73,121.01 L77.05,120.38 L77.37,119.64 L77.69,118.79 L78.02,117.82 L78.34,116.71 L78.66,115.45 L78.99,114.03 L79.31,112.44 L79.63,110.67 L79.95,108.70 L80.28,106.54 L80.60,104.17 L80.92,101.60 L81.25,98.81 L81.57,95.82 L81.89,92.63 L82.21,89.25 L82.54,85.68 L82.86,81.96 L83.18,78.09 L83.51,74.11 L83.83,70.04 L84.15,65.92 L84.47,61.78 L84.80,57.67 L85.12,53.61 L85.44,49.66 L85.76,45.87 L86.09,42.26 L86.41,38.90 L86.73,35.81 L87.06,33.05 L87.38,30.64 L87.70,28.62 L88.02,27.02 L88.35,25.85 L88.67,25.14 L88.99,24.90 L89.32,25.11 L89.64,25.75 L89.96,26.82 L90.28,28.30 L90.61,30.18 L90.93,32.42 L91.25,35.00 L91.58,37.89 L91.90,41.05 L92.22,44.45 L92.54,48.03 L92.87,51.76 L93.19,55.60 L93.51,59.51 L93.84,63.45 L94.16,67.38 L94.48,71.26 L94.80,75.07 L95.13,78.78 L95.45,82.36 L95.77,85.79 L96.09,89.06 L96.42,92.15 L96.74,95.06 L97.06,97.77 L97.39,100.28 L97.71,102.60 L98.03,104.73 L98.35,106.66 L98.68,108.42 L99.00,110.01 L99.32,111.43 L99.65,112.70 L99.97,113.82 L100.29,114.82 L100.61,115.70 L100.94,116.47 L101.26,117.14 L101.58,117.72 L101.91,118.23 L102.23,118.67 L102.55,119.04 L102.87,119.37 L103.20,119.65 L103.52,119.89 L103.84,120.10 L104.16,120.28 L104.49,120.44 L104.81,120.57 L105.13,120.69 L105.46,120.80 L105.78,120.89 L106.10,120.97 L106.42,121.05 L106.75,121.12 L107.07,121.18 L107.39,121.24 L107.72,121.29 L108.04,121.35 L108.36,121.39 L108.68,121.44 L109.01,121.49 L109.33,121.53 L109.65,121.57 L109.98,121.61 L110.30,121.65 L110.62,121.69 L110.94,121.73 L111.27,121.77 L111.59,121.81 L111.91,121.84 L112.24,121.88 L112.56,121.91 L112.88,121.95 L113.20,121.98 L113.53,122.02 L113.85,122.05 L114.17,122.08 L114.49,122.12 L114.82,122.15 L115.14,122.18 L115.46,122.21 L115.79,122.24 L116.11,122.27 L116.43,122.30 L116.75,122.33 L117.08,122.36 L117.40,122.39 L117.72,122.41 L118.05,122.44 L118.37,122.47 L118.69,122.50 L119.01,122.52 L119.34,122.55 L119.66,122.57 L119.98,122.60 L120.31,122.62 L120.63,122.65 L120.95,122.67 L121.27,122.70 L121.60,122.72 L121.92,122.74 L122.24,122.76 L122.56,122.79 L122.89,122.81 L123.21,122.83 L123.53,122.85 L123.86,122.87 L124.18,122.89 L124.50,122.91 L124.82,122.93 L125.15,122.95 L125.47,122.97 L125.79,122.99 L126.12,123.01 L126.44,123.03 L126.76,123.05 L127.08,123.07 L127.41,123.09 L127.73,123.10 L128.05,123.12 L128.38,123.14 L128.70,123.15 L129.02,123.17 L129.34,123.19 L129.67,123.20 L129.99,123.22 L130.31,123.24 L130.64,123.25 L130.96,123.27 L131.28,123.28 L131.60,123.30 L131.93,123.31 L132.25,123.33 L132.57,123.34 L132.89,123.35 L133.22,123.37 L133.54,123.38 L133.86,123.39 L134.19,123.41 L134.51,123.42 L134.83,123.43 L135.15,123.45 L135.48,123.46 L135.80,123.47 L136.12,123.48 L136.45,123.49 L136.77,123.51 L137.09,123.52 L137.41,123.53 L137.74,123.54 L138.06,123.55 L138.38,123.56 L138.71,123.57 L139.03,123.58 L139.35,123.59 L139.67,123.60 L140.00,123.61 L140.32,123.62 L140.64,123.63 L140.96,123.64 L141.29,123.65 L141.61,123.66 L141.93,123.67 L142.26,123.68 L142.58,123.69 L142.90,123.70 L143.22,123.71 L143.55,123.72 L143.87,123.73 L144.19,123.73 L144.52,123.74 L144.84,123.75 L145.16,123.76 L145.48,123.77 L145.81,123.77 L146.13,123.78 L146.45,123.79 L146.78,123.80 L147.10,123.80 L147.42,123.81 L147.74,123.82 L148.07,123.83 L148.39,123.83 L148.71,123.84 L149.04,123.85 L149.36,123.85 L149.68,123.86 L150.00,123.87 L150.33,123.87 L150.65,123.88 L150.97,123.88 L151.29,123.89 L151.62,123.90 L151.94,123.90 L152.26,123.91 L152.59,123.91 L152.91,123.92 L153.23,123.92 L153.55,123.93 L153.88,123.94 L154.20,123.94" fill="none" stroke="#109a50" stroke-width="1.2"/>
<path d="M82.21,124.16 L82.54,124.13 L82.86,124.08 L83.18,124.02 L83.51,123.96 L83.83,123.87 L84.15,123.77 L84.47,123.64 L84.80,123.49 L85.12,123.31 L85.44,123.10 L85.76,122.84 L86.09,122.53 L86.41,122.18 L86.73,121.76 L87.06,121.27 L87.38,120.70 L87.70,120.04 L88.02,119.28 L88.35,118.42 L88.67,117.44 L88.99,116.33 L89.32,115.07 L89.64,113.67 L89.96,112.11 L90.28,110.38 L90.61,108.47 L90.93,106.38 L91.25,104.10 L91.58,101.63 L91.90,98.96 L92.22,96.11 L92.54,93.07 L92.87,89.85 L93.19,86.46 L93.51,82.93 L93.84,79.25 L94.16,75.47 L94.48,71.59 L94.80,67.65 L95.13,63.69 L95.45,59.72 L95.77,55.80 L96.09,51.95 L96.42,48.21 L96.74,44.63 L97.06,41.24 L97.39,38.08 L97.71,35.19 L98.03,32.61 L98.35,30.35 L98.68,28.46 L99.00,26.95 L99.32,25.84 L99.65,25.16 L99.97,24.90 L100.29,25.02 L100.61,25.42 L100.94,26.11 L101.26,27.08 L101.58,28.32 L101.91,29.82 L102.23,31.58 L102.55,33.56 L102.87,35.76 L103.20,38.16 L103.52,40.74 L103.84,43.47 L104.16,46.33 L104.49,49.31 L104.81,52.37 L105.13,55.49 L105.46,58.65 L105.78,61.83 L106.10,65.01 L106.42,68.17 L106.75,71.29 L107.07,74.35 L107.39,77.34 L107.72,80.25 L108.04,83.06 L108.36,85.76 L108.68,88.34 L109.01,90.81 L109.33,93.14 L109.65,95.35 L109.98,97.43 L110.30,99.38 L110.62,101.19 L110.94,102.88 L111.27,104.45 L111.59,105.89 L111.91,107.22 L112.24,108.43 L112.56,109.55 L112.88,110.56 L113.20,111.48 L113.53,112.31 L113.85,113.07 L114.17,113.75 L114.49,114.36 L114.82,114.91 L115.14,115.40 L115.46,115.85 L115.79,116.24 L116.11,116.60 L116.43,116.92 L116.75,117.20 L117.08,117.46 L117.40,117.69 L117.72,117.90 L118.05,118.09 L118.37,118.26 L118.69,118.42 L119.01,118.56 L119.34,118.69 L119.66,118.81 L119.98,118.93 L120.31,119.03 L120.63,119.13 L120.95,119.23 L121.27,119.32 L121.60,119.40 L121.92,119.48 L122.24,119.56 L122.56,119.64 L122.89,119.71 L123.21,119.78 L123.53,119.85 L123.86,119.92 L124.18,119.99 L124.50,120.05 L124.82,120.11 L125.15,120.18 L125.47,120.24 L125.79,120.30 L126.12,120.36 L126.44,120.41 L126.76,120.47 L127.08,120.53 L127.41,120.58 L127.73,120.64 L128.05,120.69 L128.38,120.74 L128.70,120.79 L129.02,120.84 L129.34,120.90 L129.67,120.94 L129.99,120.99 L130.31,121.04 L130.64,121.09 L130.96,121.14 L131.28,121.18 L131.60,121.23 L131.93,121.27 L132.25,121.32 L132.57,121.36 L132.89,121.40 L133.22,121.45 L133.54,121.49 L133.86,121.53 L134.19,121.57 L134.51,121.61 L134.83,121.65 L135.15,121.69 L135.48,121.72 L135.80,121.76 L136.12,121.80 L136.45,121.83 L136.77,121.87 L137.09,121.91 L137.41,121.94 L137.74,121.98 L138.06,122.01 L138.38,122.04 L138.71,122.08 L139.03,122.11 L139.35,122.14 L139.67,122.17 L140.00,122.20 L140.32,122.23 L140.64,122.26 L140.96,122.29 L141.29,122.32 L141.61,122.35 L141.93,122.38 L142.26,122.41 L142.58,122.43 L142.90,122.46 L143.22,122.49 L143.55,122.51 L143.87,122.54 L144.19,122.57 L144.52,122.59 L144.84,122.62 L145.16,122.64 L145.48,122.67 L145.81,122.69 L146.13,122.71 L146.45,122.74 L146.78,122.76 L147.10,122.78 L147.42,122.80 L147.74,122.82 L148.07,122.85 L148.39,122.87 L148.71,122.89 L149.04,122.91 L149.36,122.93 L149.68,122.95 L150.00,122.97 L150.33,122.99 L150.65,123.01 L150.97,123.03 L151.29,123.04 L151.62,123.06 L151.94,123.08 L152.26,123.10 L152.59,123.12 L152.91,123.13 L153.23,123.15 L153.55,123.17 L153.88,123.18 L154.20,123.20" fill="none" stroke="#f03030" stroke-width="1.2"/>
<rect x="25.4" y="11.3" width="128.79999999999998" height="115.3" fill="none" stroke="#111" stroke-width="1.05"/>
<line x1="25.40" y1="126.6" x2="25.40" y2="128.4" stroke="#222" stroke-width="0.5"/>
<line x1="29.69" y1="126.6" x2="29.69" y2="127.6" stroke="#222" stroke-width="0.5"/>
<line x1="33.99" y1="126.6" x2="33.99" y2="127.6" stroke="#222" stroke-width="0.5"/>
<line x1="38.28" y1="126.6" x2="38.28" y2="127.6" stroke="#222" stroke-width="0.5"/>
<line x1="42.57" y1="126.6" x2="42.57" y2="127.6" stroke="#222" stroke-width="0.5"/>
<line x1="46.87" y1="126.6" x2="46.87" y2="128.4" stroke="#222" stroke-width="0.5"/>
<line x1="51.16" y1="126.6" x2="51.16" y2="127.6" stroke="#222" stroke-width="0.5"/>
<line x1="55.45" y1="126.6" x2="55.45" y2="127.6" stroke="#222" stroke-width="0.5"/>
<line x1="59.75" y1="126.6" x2="59.75" y2="127.6" stroke="#222" stroke-width="0.5"/>
<line x1="64.04" y1="126.6" x2="64.04" y2="127.6" stroke="#222" stroke-width="0.5"/>
<line x1="68.33" y1="126.6" x2="68.33" y2="128.4" stroke="#222" stroke-width="0.5"/>
<line x1="72.63" y1="126.6" x2="72.63" y2="127.6" stroke="#222" stroke-width="0.5"/>
<line x1="76.92" y1="126.6" x2="76.92" y2="127.6" stroke="#222" stroke-width="0.5"/>
<line x1="81.21" y1="126.6" x2="81.21" y2="127.6" stroke="#222" stroke-width="0.5"/>
<line x1="85.51" y1="126.6" x2="85.51" y2="127.6" stroke="#222" stroke-width="0.5"/>
<line x1="89.80" y1="126.6" x2="89.80" y2="128.4" stroke="#222" stroke-width="0.5"/>
<line x1="94.09" y1="126.6" x2="94.09" y2="127.6" stroke="#222" stroke-width="0.5"/>
<line x1="98.39" y1="126.6" x2="98.39" y2="127.6" stroke="#222" stroke-width="0.5"/>
<line x1="102.68" y1="126.6" x2="102.68" y2="127.6" stroke="#222" stroke-width="0.5"/>
<line x1="106.97" y1="126.6" x2="106.97" y2="127.6" stroke="#222" stroke-width="0.5"/>
<line x1="111.27" y1="126.6" x2="111.27" y2="128.4" stroke="#222" stroke-width="0.5"/>
<line x1="115.56" y1="126.6" x2="115.56" y2="127.6" stroke="#222" stroke-width="0.5"/>
<line x1="119.85" y1="126.6" x2="119.85" y2="127.6" stroke="#222" stroke-width="0.5"/>
<line x1="124.15" y1="126.6" x2="124.15" y2="127.6" stroke="#222" stroke-width="0.5"/>
<line x1="128.44" y1="126.6" x2="128.44" y2="127.6" stroke="#222" stroke-width="0.5"/>
<line x1="132.73" y1="126.6" x2="132.73" y2="128.4" stroke="#222" stroke-width="0.5"/>
<line x1="137.03" y1="126.6" x2="137.03" y2="127.6" stroke="#222" stroke-width="0.5"/>
<line x1="141.32" y1="126.6" x2="141.32" y2="127.6" stroke="#222" stroke-width="0.5"/>
<line x1="145.61" y1="126.6" x2="145.61" y2="127.6" stroke="#222" stroke-width="0.5"/>
<line x1="149.91" y1="126.6" x2="149.91" y2="127.6" stroke="#222" stroke-width="0.5"/>
<line x1="154.20" y1="126.6" x2="154.20" y2="128.4" stroke="#222" stroke-width="0.5"/>
<text x="27.4" y="134.7" font-size="5.7" text-anchor="middle" fill="#333" class="ss">300</text>
<text x="46.9" y="134.7" font-size="5.7" text-anchor="middle" fill="#333" class="ss">350</text>
<text x="68.3" y="134.7" font-size="5.7" text-anchor="middle" fill="#333" class="ss">400</text>
<text x="89.8" y="134.7" font-size="5.7" text-anchor="middle" fill="#333" class="ss">450</text>
<text x="111.3" y="134.7" font-size="5.7" text-anchor="middle" fill="#333" class="ss">500</text>
<text x="132.7" y="134.7" font-size="5.7" text-anchor="middle" fill="#333" class="ss">550</text>
<text x="154.2" y="134.7" font-size="5.7" text-anchor="middle" fill="#333" class="ss">600</text>
<text x="91.3" y="141.9" font-size="6.9" text-anchor="middle" fill="#333" class="ss">Wavelength (nm)</text>
<text transform="translate(22.6,71.8) rotate(-90)" font-size="6.2" text-anchor="middle" fill="#333" class="ss">Absorbance (AU)</text>
<text transform="translate(157.6,73.7) rotate(90)" font-size="6.3" text-anchor="middle" fill="#333" class="ss">Fluorescence Intensity (AU)</text>
<text x="56" y="21.2" font-size="6.9" text-anchor="middle" fill="#222" class="ss">ZnSe</text>
<text x="88.6" y="21.2" font-size="6.9" text-anchor="middle" fill="#222" class="ss">Zn<tspan font-size="3.6" dy="1.2">1-x</tspan><tspan dy="-1.2">Cd</tspan><tspan font-size="3.6" dy="1.2">x</tspan><tspan dy="-1.2">Se</tspan></text>
<path d="M41,104.4H29.5" stroke="#111" stroke-width="0.7" fill="none"/><path d="M27.5,104.4l3,-1.5v3z" fill="#111"/>
<path d="M115.6,104.4H126" stroke="#111" stroke-width="0.7" fill="none"/><path d="M128,104.4l-3,-1.5v3z" fill="#111"/>
</g>
<g id="pb">
<path d="M251.63,19.90 A51,51 0 0 1 296.07,45.40 L251.90,70.90 A0,0 0 0 0 251.90,70.90Z" fill="#1b6cf4"/>
<path d="M299.82,42.11 A55.9,55.9 0 0 1 300.55,98.43 L251.90,70.90 A0,0 0 0 0 251.90,70.90Z" fill="#1b6cf4"/>
<path d="M304.07,98.78 A58.8,58.8 0 0 1 251.68,129.70 L252.30,70.90 A0,0 0 0 0 252.30,70.90Z" fill="#1b6cf4"/>
<path d="M293.39,45.97 A48.4,48.4 0 0 1 294.03,94.73 L251.90,70.90 A0,0 0 0 0 251.90,70.90Z" fill="#19a2ef"/>
<path d="M298.79,95.93 A52.8,52.8 0 0 1 251.75,123.70 L252.30,70.90 A0,0 0 0 0 252.30,70.90Z" fill="#19a2ef"/>
<circle cx="251.9" cy="70.9" r="36.2" fill="#6a4df0"/>
<path d="M217.29999999999998,70.9H306.9" stroke="#fff" stroke-width="0.75" fill="none"/>
<circle cx="217.5" cy="70.9" r="1.05" fill="#fff"/>
<circle cx="287.1" cy="70.9" r="1.05" fill="#fff"/>
<circle cx="290.4" cy="70.9" r="1.05" fill="#fff"/>
<circle cx="299.4" cy="70.9" r="1.05" fill="#fff"/>
<circle cx="306.4" cy="70.9" r="1.05" fill="#fff"/>
<text x="253.1" y="59.2" font-size="7.9" font-weight="bold" text-anchor="middle" fill="#fff" class="ss">ZnSeTe</text>
<text x="252.9" y="67.8" font-size="6.5" font-weight="bold" text-anchor="middle" fill="#fff" class="ss">(Te/Se=0.02)</text>
<text x="252.9" y="79" font-size="5.5" font-weight="bold" text-anchor="middle" fill="#fff" class="ss">5.5 nm</text>
<path d="M272.0,39.3L278.6,29.1" stroke="#fff" stroke-width="0.6"/>
<circle cx="272.0" cy="39.3" r="0.95" fill="#fff"/><circle cx="278.6" cy="29.1" r="0.95" fill="#fff"/>
<text transform="translate(282.3,39.2) rotate(33)" font-size="4.6" font-weight="bold" text-anchor="middle" fill="#fff" class="ss">1.2 nm</text>
<path d="M271.9,102.4L282.7,119.2" stroke="#fff" stroke-width="0.6"/>
<circle cx="271.9" cy="102.4" r="0.95" fill="#fff"/>
<circle cx="279.9" cy="114.9" r="0.95" fill="#fff"/>
<circle cx="282.7" cy="119.2" r="0.95" fill="#fff"/>
<text transform="translate(284,107) rotate(-31)" font-size="4.6" font-weight="bold" text-anchor="middle" fill="#fff" class="ss">1.5 nm</text>
<text transform="translate(290.7,113.3) rotate(-35)" font-size="4.1" font-weight="bold" text-anchor="middle" fill="#fff" class="ss">0.4 nm</text>
<text transform="translate(296.1,64) rotate(-90)" font-size="4.2" font-weight="bold" text-anchor="middle" fill="#fff" class="ss">1 nm</text>
<text transform="translate(306.2,62) rotate(-90)" font-size="4.2" font-weight="bold" text-anchor="middle" fill="#fff" class="ss">0.8 nm</text>
<rect x="211" y="108.7" width="20.5" height="5.6" fill="#19a2ef"/>
<rect x="211" y="119.6" width="20.5" height="5.6" fill="#1b6cf4"/>
<text x="234.3" y="113.7" font-size="5.8" fill="#222" class="ss">ZnSe</text>
<text x="234.3" y="124.6" font-size="5.8" fill="#222" class="ss">ZnS</text>
<text x="284.5" y="25.8" font-size="6.6" fill="#222" class="ss">ZnSeTe/ZnS</text>
<text x="313.5" y="73.2" font-size="6.6" fill="#222" class="ss">ZnSeTe/thin-ZnSe/ZnS</text>
<text x="291.5" y="126.3" font-size="6.6" fill="#222" class="ss">ZnSeTe/thick-ZnSe/ZnS</text>
</g>
<g id="pc">
<path d="M412.90,137.20 L413.16,137.20 L413.42,137.20 L413.68,137.20 L413.95,137.20 L414.21,137.20 L414.47,137.20 L414.73,137.20 L414.99,137.20 L415.25,137.20 L415.51,137.20 L415.77,137.20 L416.04,137.20 L416.30,137.20 L416.56,137.20 L416.82,137.20 L417.08,137.19 L417.34,137.19 L417.60,137.19 L417.87,137.19 L418.13,137.19 L418.39,137.19 L418.65,137.19 L418.91,137.19 L419.17,137.19 L419.43,137.19 L419.69,137.19 L419.96,137.19 L420.22,137.19 L420.48,137.19 L420.74,137.19 L421.00,137.19 L421.26,137.19 L421.52,137.19 L421.78,137.19 L422.05,137.18 L422.31,137.18 L422.57,137.18 L422.83,137.18 L423.09,137.18 L423.35,137.18 L423.61,137.18 L423.88,137.18 L424.14,137.18 L424.40,137.18 L424.66,137.17 L424.92,137.17 L425.18,137.17 L425.44,137.17 L425.70,137.17 L425.97,137.17 L426.23,137.16 L426.49,137.16 L426.75,137.16 L427.01,137.16 L427.27,137.16 L427.53,137.15 L427.80,137.15 L428.06,137.15 L428.32,137.14 L428.58,137.14 L428.84,137.14 L429.10,137.14 L429.36,137.13 L429.62,137.13 L429.89,137.12 L430.15,137.12 L430.41,137.12 L430.67,137.11 L430.93,137.11 L431.19,137.10 L431.45,137.10 L431.72,137.09 L431.98,137.08 L432.24,137.08 L432.50,137.07 L432.76,137.06 L433.02,137.06 L433.28,137.05 L433.54,137.04 L433.81,137.03 L434.07,137.02 L434.33,137.01 L434.59,137.00 L434.85,136.99 L435.11,136.97 L435.37,136.96 L435.64,136.94 L435.90,136.93 L436.16,136.91 L436.42,136.89 L436.68,136.87 L436.94,136.85 L437.20,136.82 L437.46,136.80 L437.73,136.77 L437.99,136.74 L438.25,136.70 L438.51,136.66 L438.77,136.62 L439.03,136.58 L439.29,136.53 L439.55,136.48 L439.82,136.42 L440.08,136.36 L440.34,136.29 L440.60,136.22 L440.86,136.14 L441.12,136.05 L441.38,135.96 L441.65,135.85 L441.91,135.74 L442.17,135.62 L442.43,135.48 L442.69,135.34 L442.95,135.18 L443.21,135.01 L443.47,134.82 L443.74,134.62 L444.00,134.41 L444.26,134.17 L444.52,133.92 L444.78,133.64 L445.04,133.35 L445.30,133.03 L445.57,132.69 L445.83,132.32 L446.09,131.93 L446.35,131.51 L446.61,131.05 L446.87,130.57 L447.13,130.06 L447.39,129.51 L447.66,128.92 L447.92,128.30 L448.18,127.63 L448.44,126.93 L448.70,126.19 L448.96,125.40 L449.22,124.57 L449.49,123.69 L449.75,122.76 L450.01,121.79 L450.27,120.77 L450.53,119.69 L450.79,118.57 L451.05,117.39 L451.31,116.17 L451.58,114.88 L451.84,113.55 L452.10,112.16 L452.36,110.72 L452.62,109.23 L452.88,107.68 L453.14,106.08 L453.41,104.44 L453.67,102.74 L453.93,100.99 L454.19,99.19 L454.45,97.35 L454.71,95.46 L454.97,93.54 L455.23,91.57 L455.50,89.56 L455.76,87.52 L456.02,85.45 L456.28,83.35 L456.54,81.22 L456.80,79.07 L457.06,76.90 L457.32,74.71 L457.59,72.52 L457.85,70.31 L458.11,68.11 L458.37,65.91 L458.63,63.72 L458.89,61.54 L459.15,59.39 L459.42,57.26 L459.68,55.17 L459.94,53.13 L460.20,51.15 L460.46,49.23 L460.72,47.39 L460.98,45.64 L461.24,44.00 L461.51,42.48 L461.77,41.09 L462.03,39.85 L462.29,38.77 L462.55,37.86 L462.81,37.15 L463.07,36.62 L463.34,36.31 L463.60,36.20 L463.86,36.67 L464.12,36.82 L464.38,37.07 L464.64,37.40 L464.90,37.83 L465.16,38.35 L465.43,38.95 L465.69,39.63 L465.95,40.39 L466.21,41.22 L466.47,42.13 L466.73,43.10 L466.99,44.13 L467.26,45.22 L467.52,46.37 L467.78,47.56 L468.04,48.79 L468.30,50.06 L468.56,51.37 L468.82,52.70 L469.08,54.06 L469.35,55.44 L469.61,56.84 L469.87,58.25 L470.13,59.67 L470.39,61.09 L470.65,62.51 L470.91,63.94 L471.17,65.36 L471.44,66.77 L471.70,68.18 L471.96,69.57 L472.22,70.95 L472.48,72.32 L472.74,73.67 L473.00,75.00 L473.27,76.32 L473.53,77.62 L473.79,78.89 L474.05,80.14 L474.31,81.38 L474.57,82.59 L474.83,83.77 L475.09,84.94 L475.36,86.08 L475.62,87.19 L475.88,88.29 L476.14,89.35 L476.40,90.40 L476.66,91.42 L476.92,92.42 L477.19,93.40 L477.45,94.35 L477.71,95.29 L477.97,96.20 L478.23,97.08 L478.49,97.95 L478.75,98.80 L479.01,99.62 L479.28,100.43 L479.54,101.21 L479.80,101.98 L480.06,102.73 L480.32,103.46 L480.58,104.17 L480.84,104.86 L481.11,105.54 L481.37,106.20 L481.63,106.85 L481.89,107.47 L482.15,108.09 L482.41,108.68 L482.67,109.27 L482.93,109.84 L483.20,110.39 L483.46,110.93 L483.72,111.46 L483.98,111.98 L484.24,112.48 L484.50,112.97 L484.76,113.45 L485.03,113.92 L485.29,114.38 L485.55,114.83 L485.81,115.27 L486.07,115.69 L486.33,116.11 L486.59,116.52 L486.85,116.92 L487.12,117.30 L487.38,117.68 L487.64,118.06 L487.90,118.42 L488.16,118.78 L488.42,119.13 L488.68,119.47 L488.94,119.80 L489.21,120.13 L489.47,120.44 L489.73,120.76 L489.99,121.06 L490.25,121.36 L490.51,121.66 L490.77,121.95 L491.04,122.23 L491.30,122.50 L491.56,122.77 L491.82,123.04 L492.08,123.30 L492.34,123.56 L492.60,123.81 L492.86,124.05 L493.13,124.29 L493.39,124.53 L493.65,124.76 L493.91,124.99 L494.17,125.21 L494.43,125.43 L494.69,125.65 L494.96,125.86 L495.22,126.07 L495.48,126.28 L495.74,126.48 L496.00,126.67 L496.26,126.87 L496.52,127.06 L496.78,127.25 L497.05,127.43 L497.31,127.62 L497.57,127.79 L497.83,127.97 L498.09,128.14 L498.35,128.31 L498.61,128.48 L498.88,128.65 L499.14,128.81 L499.40,128.97 L499.66,129.13 L499.92,129.28 L500.18,129.44 L500.44,129.59 L500.70,129.73 L500.97,129.88 L501.23,130.02 L501.49,130.17 L501.75,130.30 L502.01,130.44 L502.27,130.58 L502.53,130.71 L502.79,130.84 L503.06,130.97 L503.32,131.10 L503.58,131.23 L503.84,131.35 L504.10,131.47 L504.36,131.59 L504.62,131.71 L504.89,131.83 L505.15,131.94 L505.41,132.05 L505.67,132.17 L505.93,132.28 L506.19,132.38 L506.45,132.49 L506.71,132.60 L506.98,132.70 L507.24,132.80 L507.50,132.90 L507.76,133.00 L508.02,133.10 L508.28,133.19 L508.54,133.28 L508.81,133.38 L509.07,133.47 L509.33,133.56 L509.59,133.64 L509.85,133.73 L510.11,133.81 L510.37,133.90 L510.63,133.98 L510.90,134.06 L511.16,134.14 L511.42,134.22 L511.68,134.29 L511.94,134.37 L512.20,134.44 L512.46,134.51 L512.73,134.58 L512.99,134.65 L513.25,134.72 L513.51,134.78 L513.77,134.85 L514.03,134.91 L514.29,134.97 L514.55,135.03 L514.82,135.09 L515.08,135.15 L515.34,135.21 L515.60,135.27 L515.86,135.32 L516.12,135.37 L516.38,135.42 L516.65,135.48 L516.91,135.53 L517.17,135.57 L517.43,135.62 L517.69,135.67 L517.95,135.71 L518.21,135.76 L518.47,135.80 L518.74,135.84 L519.00,135.88 L519.26,135.92 L519.52,135.96 L519.78,136.00 L520.04,136.04 L520.30,136.07 L520.56,136.11 L520.83,136.14 L521.09,136.17 L521.35,136.21 L521.61,136.24 L521.87,136.27 L522.13,136.30 L522.39,136.32 L522.66,136.35 L522.92,136.38 L523.18,136.41 L523.44,136.43 L523.70,136.46 L523.96,136.48 L524.22,136.50 L524.48,136.53 L524.75,136.55 L525.01,136.57 L525.27,136.59 L525.53,136.61 L525.79,136.63 L526.05,136.65 L526.31,136.67 L526.58,136.69 L526.84,136.70 L527.10,136.72 L527.36,136.74 L527.62,136.75 L527.88,136.77 L528.14,136.78 L528.40,136.79 L528.67,136.81 L528.93,136.82 L529.19,136.83 L529.45,136.85 L529.71,136.86 L529.97,136.87 L530.23,136.88 L530.50,136.89 L530.76,136.90 L531.02,136.91 L531.28,136.92 L531.54,136.93 L531.80,136.94 L532.06,136.95 L532.32,136.96 L532.59,136.97 L532.85,136.98 L533.11,136.98 L533.37,136.99 L533.63,137.00 L533.89,137.01 L534.15,137.01 L534.42,137.02 L534.68,137.03 L534.94,137.03 L535.20,137.04 L535.46,137.04 L535.72,137.05 L535.98,137.05 L536.24,137.06 L536.51,137.06 L536.77,137.07 L537.03,137.07 L537.29,137.08 L537.55,137.08 L537.81,137.09 L538.07,137.09 L538.33,137.09 L538.60,137.10 L538.86,137.10 L539.12,137.10 L539.38,137.11 L539.64,137.11 L539.90,137.11 L540.16,137.12 L540.43,137.12 L540.69,137.12 L540.95,137.13 L541.21,137.13 L541.47,137.13 L541.73,137.13 L541.99,137.14 L542.25,137.14 L542.52,137.14 L542.78,137.14 L543.04,137.14 L543.30,137.15" fill="none" stroke="#0a10c8" stroke-width="1.8" stroke-linejoin="round"/>
<path d="M412.90,137.20 L413.16,137.20 L413.42,137.20 L413.68,137.20 L413.95,137.20 L414.21,137.20 L414.47,137.20 L414.73,137.20 L414.99,137.19 L415.25,137.19 L415.51,137.19 L415.77,137.19 L416.04,137.19 L416.30,137.19 L416.56,137.19 L416.82,137.19 L417.08,137.19 L417.34,137.19 L417.60,137.19 L417.87,137.19 L418.13,137.19 L418.39,137.19 L418.65,137.19 L418.91,137.19 L419.17,137.19 L419.43,137.19 L419.69,137.19 L419.96,137.18 L420.22,137.18 L420.48,137.18 L420.74,137.18 L421.00,137.18 L421.26,137.18 L421.52,137.18 L421.78,137.18 L422.05,137.18 L422.31,137.18 L422.57,137.17 L422.83,137.17 L423.09,137.17 L423.35,137.17 L423.61,137.17 L423.88,137.17 L424.14,137.16 L424.40,137.16 L424.66,137.16 L424.92,137.16 L425.18,137.16 L425.44,137.15 L425.70,137.15 L425.97,137.15 L426.23,137.15 L426.49,137.14 L426.75,137.14 L427.01,137.14 L427.27,137.14 L427.53,137.13 L427.80,137.13 L428.06,137.13 L428.32,137.12 L428.58,137.12 L428.84,137.11 L429.10,137.11 L429.36,137.10 L429.62,137.10 L429.89,137.09 L430.15,137.09 L430.41,137.08 L430.67,137.08 L430.93,137.07 L431.19,137.06 L431.45,137.05 L431.72,137.05 L431.98,137.04 L432.24,137.03 L432.50,137.02 L432.76,137.01 L433.02,137.00 L433.28,136.99 L433.54,136.98 L433.81,136.96 L434.07,136.95 L434.33,136.93 L434.59,136.92 L434.85,136.90 L435.11,136.88 L435.37,136.86 L435.64,136.84 L435.90,136.82 L436.16,136.79 L436.42,136.76 L436.68,136.73 L436.94,136.70 L437.20,136.66 L437.46,136.63 L437.73,136.58 L437.99,136.54 L438.25,136.49 L438.51,136.44 L438.77,136.38 L439.03,136.32 L439.29,136.25 L439.55,136.18 L439.82,136.09 L440.08,136.01 L440.34,135.91 L440.60,135.81 L440.86,135.70 L441.12,135.58 L441.38,135.45 L441.65,135.30 L441.91,135.15 L442.17,134.98 L442.43,134.80 L442.69,134.61 L442.95,134.40 L443.21,134.17 L443.47,133.93 L443.74,133.66 L444.00,133.38 L444.26,133.07 L444.52,132.75 L444.78,132.40 L445.04,132.02 L445.30,131.62 L445.57,131.19 L445.83,130.73 L446.09,130.24 L446.35,129.72 L446.61,129.16 L446.87,128.57 L447.13,127.94 L447.39,127.28 L447.66,126.57 L447.92,125.82 L448.18,125.03 L448.44,124.20 L448.70,123.32 L448.96,122.40 L449.22,121.43 L449.49,120.41 L449.75,119.34 L450.01,118.22 L450.27,117.05 L450.53,115.83 L450.79,114.55 L451.05,113.22 L451.31,111.84 L451.58,110.41 L451.84,108.92 L452.10,107.38 L452.36,105.78 L452.62,104.14 L452.88,102.44 L453.14,100.69 L453.41,98.89 L453.67,97.05 L453.93,95.15 L454.19,93.22 L454.45,91.23 L454.71,89.21 L454.97,87.15 L455.23,85.05 L455.50,82.91 L455.76,80.74 L456.02,78.55 L456.28,76.33 L456.54,74.08 L456.80,71.82 L457.06,69.54 L457.32,67.25 L457.59,64.96 L457.85,62.66 L458.11,60.37 L458.37,58.08 L458.63,55.81 L458.89,53.55 L459.15,51.33 L459.42,49.13 L459.68,46.99 L459.94,44.89 L460.20,42.86 L460.46,40.89 L460.72,39.02 L460.98,37.24 L461.24,35.57 L461.51,34.03 L461.77,32.62 L462.03,31.37 L462.29,30.28 L462.55,29.37 L462.81,28.65 L463.07,28.13 L463.34,27.81 L463.60,27.70 L463.86,28.22 L464.12,28.42 L464.38,28.74 L464.64,29.18 L464.90,29.74 L465.16,30.42 L465.43,31.20 L465.69,32.09 L465.95,33.08 L466.21,34.16 L466.47,35.33 L466.73,36.58 L466.99,37.91 L467.26,39.30 L467.52,40.75 L467.78,42.26 L468.04,43.81 L468.30,45.40 L468.56,47.02 L468.82,48.68 L469.08,50.35 L469.35,52.04 L469.61,53.74 L469.87,55.44 L470.13,57.14 L470.39,58.84 L470.65,60.54 L470.91,62.22 L471.17,63.89 L471.44,65.54 L471.70,67.17 L471.96,68.78 L472.22,70.37 L472.48,71.93 L472.74,73.46 L473.00,74.97 L473.27,76.44 L473.53,77.89 L473.79,79.31 L474.05,80.69 L474.31,82.05 L474.57,83.37 L474.83,84.67 L475.09,85.93 L475.36,87.16 L475.62,88.36 L475.88,89.53 L476.14,90.67 L476.40,91.78 L476.66,92.86 L476.92,93.91 L477.19,94.94 L477.45,95.94 L477.71,96.91 L477.97,97.85 L478.23,98.77 L478.49,99.66 L478.75,100.53 L479.01,101.37 L479.28,102.20 L479.54,103.00 L479.80,103.77 L480.06,104.53 L480.32,105.26 L480.58,105.98 L480.84,106.68 L481.11,107.35 L481.37,108.01 L481.63,108.65 L481.89,109.28 L482.15,109.88 L482.41,110.47 L482.67,111.05 L482.93,111.61 L483.20,112.15 L483.46,112.69 L483.72,113.20 L483.98,113.71 L484.24,114.20 L484.50,114.68 L484.76,115.14 L485.03,115.60 L485.29,116.04 L485.55,116.47 L485.81,116.89 L486.07,117.30 L486.33,117.70 L486.59,118.09 L486.85,118.47 L487.12,118.85 L487.38,119.21 L487.64,119.56 L487.90,119.91 L488.16,120.25 L488.42,120.58 L488.68,120.90 L488.94,121.22 L489.21,121.53 L489.47,121.83 L489.73,122.12 L489.99,122.41 L490.25,122.70 L490.51,122.97 L490.77,123.24 L491.04,123.51 L491.30,123.77 L491.56,124.02 L491.82,124.27 L492.08,124.51 L492.34,124.75 L492.60,124.99 L492.86,125.21 L493.13,125.44 L493.39,125.66 L493.65,125.88 L493.91,126.09 L494.17,126.29 L494.43,126.50 L494.69,126.70 L494.96,126.90 L495.22,127.09 L495.48,127.28 L495.74,127.46 L496.00,127.65 L496.26,127.83 L496.52,128.00 L496.78,128.18 L497.05,128.35 L497.31,128.51 L497.57,128.68 L497.83,128.84 L498.09,129.00 L498.35,129.16 L498.61,129.31 L498.88,129.46 L499.14,129.61 L499.40,129.76 L499.66,129.90 L499.92,130.04 L500.18,130.18 L500.44,130.32 L500.70,130.46 L500.97,130.59 L501.23,130.72 L501.49,130.85 L501.75,130.98 L502.01,131.10 L502.27,131.23 L502.53,131.35 L502.79,131.47 L503.06,131.59 L503.32,131.70 L503.58,131.82 L503.84,131.93 L504.10,132.04 L504.36,132.15 L504.62,132.26 L504.89,132.36 L505.15,132.47 L505.41,132.57 L505.67,132.67 L505.93,132.77 L506.19,132.87 L506.45,132.96 L506.71,133.06 L506.98,133.15 L507.24,133.24 L507.50,133.33 L507.76,133.42 L508.02,133.51 L508.28,133.60 L508.54,133.68 L508.81,133.77 L509.07,133.85 L509.33,133.93 L509.59,134.01 L509.85,134.08 L510.11,134.16 L510.37,134.24 L510.63,134.31 L510.90,134.38 L511.16,134.45 L511.42,134.52 L511.68,134.59 L511.94,134.66 L512.20,134.72 L512.46,134.79 L512.73,134.85 L512.99,134.91 L513.25,134.97 L513.51,135.03 L513.77,135.09 L514.03,135.15 L514.29,135.20 L514.55,135.26 L514.82,135.31 L515.08,135.37 L515.34,135.42 L515.60,135.47 L515.86,135.52 L516.12,135.56 L516.38,135.61 L516.65,135.66 L516.91,135.70 L517.17,135.74 L517.43,135.79 L517.69,135.83 L517.95,135.87 L518.21,135.91 L518.47,135.95 L518.74,135.98 L519.00,136.02 L519.26,136.06 L519.52,136.09 L519.78,136.13 L520.04,136.16 L520.30,136.19 L520.56,136.22 L520.83,136.25 L521.09,136.28 L521.35,136.31 L521.61,136.34 L521.87,136.37 L522.13,136.39 L522.39,136.42 L522.66,136.44 L522.92,136.47 L523.18,136.49 L523.44,136.51 L523.70,136.54 L523.96,136.56 L524.22,136.58 L524.48,136.60 L524.75,136.62 L525.01,136.64 L525.27,136.66 L525.53,136.67 L525.79,136.69 L526.05,136.71 L526.31,136.72 L526.58,136.74 L526.84,136.76 L527.10,136.77 L527.36,136.78 L527.62,136.80 L527.88,136.81 L528.14,136.83 L528.40,136.84 L528.67,136.85 L528.93,136.86 L529.19,136.87 L529.45,136.89 L529.71,136.90 L529.97,136.91 L530.23,136.92 L530.50,136.93 L530.76,136.94 L531.02,136.94 L531.28,136.95 L531.54,136.96 L531.80,136.97 L532.06,136.98 L532.32,136.99 L532.59,136.99 L532.85,137.00 L533.11,137.01 L533.37,137.01 L533.63,137.02 L533.89,137.03 L534.15,137.03 L534.42,137.04 L534.68,137.04 L534.94,137.05 L535.20,137.05 L535.46,137.06 L535.72,137.06 L535.98,137.07 L536.24,137.07 L536.51,137.08 L536.77,137.08 L537.03,137.09 L537.29,137.09 L537.55,137.09 L537.81,137.10 L538.07,137.10 L538.33,137.11 L538.60,137.11 L538.86,137.11 L539.12,137.12 L539.38,137.12 L539.64,137.12 L539.90,137.12 L540.16,137.13 L540.43,137.13 L540.69,137.13 L540.95,137.13 L541.21,137.14 L541.47,137.14 L541.73,137.14 L541.99,137.14 L542.25,137.14 L542.52,137.15 L542.78,137.15 L543.04,137.15 L543.30,137.15" fill="none" stroke="#0d6f86" stroke-width="1.8" stroke-linejoin="round"/>
<path d="M412.90,137.19 L413.16,137.19 L413.42,137.19 L413.68,137.19 L413.95,137.19 L414.21,137.19 L414.47,137.19 L414.73,137.19 L414.99,137.19 L415.25,137.19 L415.51,137.19 L415.77,137.19 L416.04,137.19 L416.30,137.19 L416.56,137.19 L416.82,137.19 L417.08,137.19 L417.34,137.19 L417.60,137.18 L417.87,137.18 L418.13,137.18 L418.39,137.18 L418.65,137.18 L418.91,137.18 L419.17,137.18 L419.43,137.18 L419.69,137.18 L419.96,137.18 L420.22,137.17 L420.48,137.17 L420.74,137.17 L421.00,137.17 L421.26,137.17 L421.52,137.17 L421.78,137.17 L422.05,137.16 L422.31,137.16 L422.57,137.16 L422.83,137.16 L423.09,137.16 L423.35,137.15 L423.61,137.15 L423.88,137.15 L424.14,137.15 L424.40,137.14 L424.66,137.14 L424.92,137.14 L425.18,137.13 L425.44,137.13 L425.70,137.13 L425.97,137.12 L426.23,137.12 L426.49,137.12 L426.75,137.11 L427.01,137.11 L427.27,137.10 L427.53,137.10 L427.80,137.09 L428.06,137.09 L428.32,137.08 L428.58,137.08 L428.84,137.07 L429.10,137.06 L429.36,137.06 L429.62,137.05 L429.89,137.04 L430.15,137.03 L430.41,137.03 L430.67,137.02 L430.93,137.01 L431.19,137.00 L431.45,136.99 L431.72,136.97 L431.98,136.96 L432.24,136.95 L432.50,136.94 L432.76,136.92 L433.02,136.90 L433.28,136.89 L433.54,136.87 L433.81,136.85 L434.07,136.83 L434.33,136.80 L434.59,136.78 L434.85,136.75 L435.11,136.72 L435.37,136.69 L435.64,136.66 L435.90,136.62 L436.16,136.58 L436.42,136.54 L436.68,136.50 L436.94,136.45 L437.20,136.39 L437.46,136.34 L437.73,136.27 L437.99,136.20 L438.25,136.13 L438.51,136.05 L438.77,135.97 L439.03,135.87 L439.29,135.77 L439.55,135.66 L439.82,135.55 L440.08,135.42 L440.34,135.28 L440.60,135.13 L440.86,134.97 L441.12,134.80 L441.38,134.61 L441.65,134.41 L441.91,134.20 L442.17,133.97 L442.43,133.72 L442.69,133.45 L442.95,133.17 L443.21,132.86 L443.47,132.53 L443.74,132.18 L444.00,131.80 L444.26,131.40 L444.52,130.98 L444.78,130.52 L445.04,130.03 L445.30,129.52 L445.57,128.97 L445.83,128.39 L446.09,127.77 L446.35,127.12 L446.61,126.43 L446.87,125.70 L447.13,124.93 L447.39,124.11 L447.66,123.26 L447.92,122.36 L448.18,121.42 L448.44,120.42 L448.70,119.38 L448.96,118.30 L449.22,117.16 L449.49,115.97 L449.75,114.73 L450.01,113.44 L450.27,112.10 L450.53,110.71 L450.79,109.26 L451.05,107.76 L451.31,106.21 L451.58,104.60 L451.84,102.94 L452.10,101.24 L452.36,99.48 L452.62,97.66 L452.88,95.81 L453.14,93.90 L453.41,91.94 L453.67,89.94 L453.93,87.90 L454.19,85.82 L454.45,83.69 L454.71,81.53 L454.97,79.33 L455.23,77.10 L455.50,74.84 L455.76,72.55 L456.02,70.24 L456.28,67.91 L456.54,65.56 L456.80,63.19 L457.06,60.82 L457.32,58.44 L457.59,56.06 L457.85,53.68 L458.11,51.30 L458.37,48.95 L458.63,46.61 L458.89,44.29 L459.15,42.01 L459.42,39.77 L459.68,37.58 L459.94,35.45 L460.20,33.39 L460.46,31.40 L460.72,29.51 L460.98,27.72 L461.24,26.04 L461.51,24.50 L461.77,23.09 L462.03,21.84 L462.29,20.76 L462.55,19.85 L462.81,19.14 L463.07,18.62 L463.34,18.31 L463.60,18.20 L463.86,18.78 L464.12,19.05 L464.38,19.48 L464.64,20.07 L464.90,20.82 L465.16,21.73 L465.43,22.78 L465.69,23.96 L465.95,25.27 L466.21,26.70 L466.47,28.24 L466.73,29.88 L466.99,31.60 L467.26,33.40 L467.52,35.27 L467.78,37.19 L468.04,39.16 L468.30,41.16 L468.56,43.19 L468.82,45.25 L469.08,47.31 L469.35,49.38 L469.61,51.44 L469.87,53.50 L470.13,55.54 L470.39,57.56 L470.65,59.56 L470.91,61.53 L471.17,63.48 L471.44,65.39 L471.70,67.26 L471.96,69.10 L472.22,70.89 L472.48,72.65 L472.74,74.37 L473.00,76.04 L473.27,77.67 L473.53,79.26 L473.79,80.81 L474.05,82.31 L474.31,83.78 L474.57,85.20 L474.83,86.58 L475.09,87.92 L475.36,89.22 L475.62,90.48 L475.88,91.71 L476.14,92.90 L476.40,94.05 L476.66,95.17 L476.92,96.25 L477.19,97.30 L477.45,98.32 L477.71,99.30 L477.97,100.26 L478.23,101.19 L478.49,102.08 L478.75,102.96 L479.01,103.80 L479.28,104.62 L479.54,105.41 L479.80,106.18 L480.06,106.93 L480.32,107.65 L480.58,108.35 L480.84,109.03 L481.11,109.69 L481.37,110.33 L481.63,110.95 L481.89,111.56 L482.15,112.14 L482.41,112.71 L482.67,113.27 L482.93,113.80 L483.20,114.33 L483.46,114.83 L483.72,115.33 L483.98,115.81 L484.24,116.27 L484.50,116.72 L484.76,117.17 L485.03,117.59 L485.29,118.01 L485.55,118.42 L485.81,118.81 L486.07,119.20 L486.33,119.57 L486.59,119.94 L486.85,120.30 L487.12,120.64 L487.38,120.98 L487.64,121.31 L487.90,121.63 L488.16,121.95 L488.42,122.26 L488.68,122.55 L488.94,122.85 L489.21,123.13 L489.47,123.41 L489.73,123.68 L489.99,123.95 L490.25,124.21 L490.51,124.46 L490.77,124.71 L491.04,124.95 L491.30,125.19 L491.56,125.42 L491.82,125.65 L492.08,125.87 L492.34,126.09 L492.60,126.30 L492.86,126.51 L493.13,126.72 L493.39,126.92 L493.65,127.11 L493.91,127.30 L494.17,127.49 L494.43,127.68 L494.69,127.86 L494.96,128.04 L495.22,128.21 L495.48,128.38 L495.74,128.55 L496.00,128.72 L496.26,128.88 L496.52,129.04 L496.78,129.19 L497.05,129.35 L497.31,129.50 L497.57,129.64 L497.83,129.79 L498.09,129.93 L498.35,130.07 L498.61,130.21 L498.88,130.35 L499.14,130.48 L499.40,130.61 L499.66,130.74 L499.92,130.87 L500.18,130.99 L500.44,131.12 L500.70,131.24 L500.97,131.36 L501.23,131.47 L501.49,131.59 L501.75,131.70 L502.01,131.81 L502.27,131.92 L502.53,132.03 L502.79,132.14 L503.06,132.24 L503.32,132.35 L503.58,132.45 L503.84,132.55 L504.10,132.65 L504.36,132.75 L504.62,132.84 L504.89,132.94 L505.15,133.03 L505.41,133.12 L505.67,133.21 L505.93,133.30 L506.19,133.38 L506.45,133.47 L506.71,133.55 L506.98,133.64 L507.24,133.72 L507.50,133.80 L507.76,133.88 L508.02,133.95 L508.28,134.03 L508.54,134.10 L508.81,134.18 L509.07,134.25 L509.33,134.32 L509.59,134.39 L509.85,134.46 L510.11,134.53 L510.37,134.59 L510.63,134.66 L510.90,134.72 L511.16,134.79 L511.42,134.85 L511.68,134.91 L511.94,134.97 L512.20,135.02 L512.46,135.08 L512.73,135.14 L512.99,135.19 L513.25,135.25 L513.51,135.30 L513.77,135.35 L514.03,135.40 L514.29,135.45 L514.55,135.50 L514.82,135.54 L515.08,135.59 L515.34,135.64 L515.60,135.68 L515.86,135.72 L516.12,135.76 L516.38,135.81 L516.65,135.85 L516.91,135.88 L517.17,135.92 L517.43,135.96 L517.69,136.00 L517.95,136.03 L518.21,136.07 L518.47,136.10 L518.74,136.13 L519.00,136.17 L519.26,136.20 L519.52,136.23 L519.78,136.26 L520.04,136.29 L520.30,136.32 L520.56,136.34 L520.83,136.37 L521.09,136.40 L521.35,136.42 L521.61,136.45 L521.87,136.47 L522.13,136.49 L522.39,136.51 L522.66,136.54 L522.92,136.56 L523.18,136.58 L523.44,136.60 L523.70,136.62 L523.96,136.64 L524.22,136.66 L524.48,136.67 L524.75,136.69 L525.01,136.71 L525.27,136.72 L525.53,136.74 L525.79,136.75 L526.05,136.77 L526.31,136.78 L526.58,136.80 L526.84,136.81 L527.10,136.82 L527.36,136.84 L527.62,136.85 L527.88,136.86 L528.14,136.87 L528.40,136.88 L528.67,136.89 L528.93,136.90 L529.19,136.91 L529.45,136.92 L529.71,136.93 L529.97,136.94 L530.23,136.95 L530.50,136.96 L530.76,136.97 L531.02,136.98 L531.28,136.98 L531.54,136.99 L531.80,137.00 L532.06,137.01 L532.32,137.01 L532.59,137.02 L532.85,137.03 L533.11,137.03 L533.37,137.04 L533.63,137.04 L533.89,137.05 L534.15,137.05 L534.42,137.06 L534.68,137.06 L534.94,137.07 L535.20,137.07 L535.46,137.08 L535.72,137.08 L535.98,137.09 L536.24,137.09 L536.51,137.09 L536.77,137.10 L537.03,137.10 L537.29,137.10 L537.55,137.11 L537.81,137.11 L538.07,137.11 L538.33,137.12 L538.60,137.12 L538.86,137.12 L539.12,137.13 L539.38,137.13 L539.64,137.13 L539.90,137.13 L540.16,137.14 L540.43,137.14 L540.69,137.14 L540.95,137.14 L541.21,137.14 L541.47,137.15 L541.73,137.15 L541.99,137.15 L542.25,137.15 L542.52,137.15 L542.78,137.16 L543.04,137.16 L543.30,137.16" fill="none" stroke="#08c4e4" stroke-width="1.8" stroke-linejoin="round"/>
<rect x="412.9" y="6.9" width="130.39999999999998" height="131.1" fill="none" stroke="#000" stroke-width="0.95"/>
<line x1="412.9" y1="30.1" x2="414.4" y2="30.1" stroke="#222" stroke-width="0.5"/>
<line x1="412.9" y1="53.9" x2="414.4" y2="53.9" stroke="#222" stroke-width="0.5"/>
<line x1="412.9" y1="77.7" x2="414.4" y2="77.7" stroke="#222" stroke-width="0.5"/>
<line x1="412.9" y1="101.6" x2="414.4" y2="101.6" stroke="#222" stroke-width="0.5"/>
<line x1="412.9" y1="125.5" x2="414.4" y2="125.5" stroke="#222" stroke-width="0.5"/>
<line x1="424.0" y1="138.0" x2="424.0" y2="135.5" stroke="#222" stroke-width="0.6"/>
<text x="424.0" y="147.6" font-size="8.3" text-anchor="middle" fill="#222" class="ss">400</text>
<line x1="460.0" y1="138.0" x2="460.0" y2="135.5" stroke="#222" stroke-width="0.6"/>
<text x="460.0" y="147.6" font-size="8.3" text-anchor="middle" fill="#222" class="ss">450</text>
<line x1="496.0" y1="138.0" x2="496.0" y2="135.5" stroke="#222" stroke-width="0.6"/>
<text x="496.0" y="147.6" font-size="8.3" text-anchor="middle" fill="#222" class="ss">500</text>
<line x1="532.0" y1="138.0" x2="532.0" y2="135.5" stroke="#222" stroke-width="0.6"/>
<text x="532.0" y="147.6" font-size="8.3" text-anchor="middle" fill="#222" class="ss">550</text>
<line x1="442.0" y1="138.0" x2="442.0" y2="136.6" stroke="#222" stroke-width="0.5"/>
<line x1="478.0" y1="138.0" x2="478.0" y2="136.6" stroke="#222" stroke-width="0.5"/>
<line x1="514.0" y1="138.0" x2="514.0" y2="136.6" stroke="#222" stroke-width="0.5"/>
<line x1="412.9" y1="18.2" x2="415.5" y2="18.2" stroke="#222" stroke-width="0.6"/>
<line x1="412.9" y1="42" x2="415.5" y2="42" stroke="#222" stroke-width="0.6"/>
<line x1="412.9" y1="65.7" x2="415.5" y2="65.7" stroke="#222" stroke-width="0.6"/>
<line x1="412.9" y1="89.6" x2="415.5" y2="89.6" stroke="#222" stroke-width="0.6"/>
<line x1="412.9" y1="113.5" x2="415.5" y2="113.5" stroke="#222" stroke-width="0.6"/>
<text transform="translate(408.2,72.5) rotate(-90)" font-size="11" text-anchor="middle" fill="#222" class="ss">PL Intensity (a.u.)</text>
<text x="478" y="159.7" font-size="11.6" text-anchor="middle" fill="#222" class="ss">Wavelength (nm)</text>
<line x1="481" y1="13.7" x2="498" y2="13.7" stroke="#0a10c8" stroke-width="1.7"/>
<text x="499.6" y="16.2" font-size="7" fill="#222" class="ss"><tspan font-style="italic">thin</tspan>-ZnS</text>
<line x1="481" y1="22.6" x2="498" y2="22.6" stroke="#0d6f86" stroke-width="1.7"/>
<text x="499.6" y="25.1" font-size="7" fill="#222" class="ss"><tspan font-style="italic">medium</tspan>-ZnS</text>
<line x1="481" y1="31.4" x2="498" y2="31.4" stroke="#08c4e4" stroke-width="1.7"/>
<text x="499.6" y="33.9" font-size="7" fill="#222" class="ss"><tspan font-style="italic">thick</tspan>-ZnS</text>
</g>

<g id="pd">
<rect x="33.7" y="162" width="16.4" height="82.3" fill="#c0e1e9"/>
<rect x="53.2" y="204.8" width="16" height="64.6" fill="#a9cdec"/>
<rect x="72.3" y="201.8" width="15.8" height="81.8" fill="#fdd25c"/>
<rect x="91.6" y="210.7" width="19" height="3.5" fill="#868686"/>
<text x="101.3" y="222.6" font-size="7.2" text-anchor="middle" fill="#222" class="ss">Al</text>
<text transform="translate(45.2,205.4) rotate(-90)" font-size="6.4" text-anchor="middle" fill="#222" class="ss">PVK</text>
<text transform="translate(63.9,237.5) rotate(-90)" font-size="6.4" font-weight="bold" text-anchor="middle" fill="#222" class="ss">QDs</text>
<text x="80.3" y="291.9" font-size="7.3" text-anchor="middle" fill="#222" class="ss">ZnO</text>
<path d="M60.6,207.3V220.2" stroke="#1f4fa0" stroke-width="0.95" fill="none" marker-end="url(#mb2)"/>
<path d="M60.6,266V256" stroke="#1f4fa0" stroke-width="0.95" fill="none" marker-end="url(#mb2)"/>
<g transform="translate(0,0)">
<path d="M54.5,238.8 C50,239.6 46.6,231 42.3,231 C38.4,231 38.6,241.5 35.2,241.5 C32.7,241.5 33.3,234.3 31.4,234.3 C29.4,234.3 29.4,241.5 26.9,241.5 C24.2,241.5 21.5,237.6 17.2,236.2" fill="none" stroke="#a6d8fa" stroke-width="4.2" stroke-linecap="round" filter="url(#glow)"/>
<path d="M15.6,235.7 L20.3,233.4 L18.9,236.3 L19.2,239.6 Z" fill="#a6d8fa" stroke="#a6d8fa" stroke-width="3.5" filter="url(#glow)"/>
<path d="M54.5,238.8 C50,239.6 46.6,231 42.3,231 C38.4,231 38.6,241.5 35.2,241.5 C32.7,241.5 33.3,234.3 31.4,234.3 C29.4,234.3 29.4,241.5 26.9,241.5 C24.2,241.5 21.5,237.6 17.2,236.2" fill="none" stroke="#6cbcf4" stroke-width="2.3" stroke-linecap="round" filter="url(#glow2)"/>
<path d="M54.5,238.8 C50,239.6 46.6,231 42.3,231 C38.4,231 38.6,241.5 35.2,241.5 C32.7,241.5 33.3,234.3 31.4,234.3 C29.4,234.3 29.4,241.5 26.9,241.5 C24.2,241.5 21.5,237.6 17.2,236.2" fill="none" stroke="#1e7fe0" stroke-width="1.15" stroke-linecap="round"/>
<path d="M15.6,235.7 L20.3,233.4 L18.9,236.3 L19.2,239.6 Z" fill="#1e7fe0" stroke="#1e7fe0" stroke-width="0.6" stroke-linejoin="round"/>
</g>
<path d="M41,246.5 C41.5,262 44,269 49.6,270.9" stroke="#1a3a90" stroke-width="1.25" fill="none" marker-end="url(#mb3)"/>
<circle cx="52" cy="194.3" r="2.45" fill="#0c0c0c"/>
<circle cx="53.4" cy="197.8" r="2.45" fill="#0c0c0c"/>
<circle cx="57.6" cy="197.8" r="2.45" fill="#0c0c0c"/>
<circle cx="55.1" cy="202.3" r="2.45" fill="#0c0c0c"/>
<circle cx="60.8" cy="202.3" r="2.45" fill="#0c0c0c"/>
<circle cx="66.5" cy="202.3" r="2.45" fill="#0c0c0c"/>
<circle cx="80.5" cy="197.6" r="2.45" fill="#0c0c0c"/>
<circle cx="101.2" cy="207.5" r="2.45" fill="#0c0c0c"/>
<path d="M101,204.6 C98,196.5 91,194.3 84.2,196.6" stroke="#f0201c" stroke-width="1.25" fill="none" marker-end="url(#mr)"/>
<path d="M78.2,195.6 C73.5,191.8 68,192.8 65.6,198.2" stroke="#f0201c" stroke-width="1.25" fill="none" marker-end="url(#mr)"/>
<path d="M69.5,202.4 C75.8,202.2 78.4,206 78.2,212 C78,216 77.2,218.6 76.2,221" stroke="#7d2db4" stroke-width="1.45" fill="none" marker-end="url(#mp)"/>
<path d="M76.5,261.5 C80.5,266 78.5,272 71.5,273" stroke="#7d2db4" stroke-width="1.45" fill="none" marker-end="url(#mp)"/>
<circle cx="73.6" cy="225.8" r="3.4" fill="#868686"/>
<circle cx="73.6" cy="242.2" r="3.4" fill="#868686"/>
<circle cx="73.6" cy="258.7" r="3.4" fill="#868686"/>
<circle cx="55.1" cy="272.7" r="2.15" fill="#fff" stroke="#2a2a2a" stroke-width="0.8"/>
<circle cx="60.8" cy="272.7" r="2.15" fill="#fff" stroke="#2a2a2a" stroke-width="0.8"/>
<circle cx="66.5" cy="272.7" r="2.15" fill="#fff" stroke="#2a2a2a" stroke-width="0.8"/>
<text x="120.5" y="171.5" font-size="10.6" font-weight="bold" text-anchor="middle" fill="#7d7d7d" class="ss">electron over-injection</text>
<path d="M79.5,174.2L60.2,192.2" stroke="#999" stroke-width="0.45" fill="none" marker-end="url(#mg)"/>
<text x="157" y="215.1" font-size="9.5" font-weight="bold" text-anchor="middle" fill="#16297c" class="ss">Sn doping</text>
<path d="M124.6,221H185" stroke="#16297c" stroke-width="1.2" fill="none"/><path d="M188.2,221l-6.6,-3l2,3l-2,3z" fill="#16297c"/>
<circle cx="109.4" cy="258.7" r="2.15" fill="#fff" stroke="#2a2a2a" stroke-width="0.8"/>
<circle cx="109.4" cy="270.8" r="2.3" fill="#0c0c0c"/>
<circle cx="109.4" cy="282.8" r="3.4" fill="#868686"/>
<text x="117" y="260.6" font-size="6.35" font-weight="bold" fill="#222" class="ss">hole</text>
<text x="117" y="272.7" font-size="6.35" font-weight="bold" fill="#222" class="ss">electron</text>
<text x="117" y="284.8" font-size="6.35" font-weight="bold" fill="#222" class="ss">O<tspan font-size="3.4" dy="1">H</tspan><tspan dy="-1">: exciton quenching sites</tspan></text>
<rect x="205.9" y="162" width="16" height="82.6" fill="#c0e1e9"/>
<rect x="225.6" y="205.2" width="16.3" height="64.5" fill="#a9cdec"/>
<rect x="245.5" y="195.2" width="16.4" height="81.6" fill="#fdd25c"/>
<rect x="264.8" y="211.2" width="19.2" height="3.5" fill="#868686"/>
<text x="274.6" y="221.4" font-size="7.2" text-anchor="middle" fill="#222" class="ss">Al</text>
<text transform="translate(217,205.4) rotate(-90)" font-size="6.4" text-anchor="middle" fill="#222" class="ss">PVK</text>
<text transform="translate(235.7,237.5) rotate(-90)" font-size="6.4" font-weight="bold" text-anchor="middle" fill="#222" class="ss">QDs</text>
<text x="256.2" y="286.4" font-size="7.2" text-anchor="middle" fill="#222" class="ss">Zn<tspan font-size="3.4" dy="1.2">1-x</tspan><tspan dy="-1.2">Sn</tspan><tspan font-size="3.4" dy="1.2">x</tspan><tspan dy="-1.2">O</tspan></text>
<path d="M233.6,207.2V219.6" stroke="#1f4fa0" stroke-width="1.3" fill="none" marker-end="url(#mb2)"/>
<path d="M233.6,266.2V256" stroke="#1f4fa0" stroke-width="1.3" fill="none" marker-end="url(#mb2)"/>
<g transform="translate(175,0.4)">
<path d="M54.5,238.8 C50,239.6 46.6,231 42.3,231 C38.4,231 38.6,241.5 35.2,241.5 C32.7,241.5 33.3,234.3 31.4,234.3 C29.4,234.3 29.4,241.5 26.9,241.5 C24.2,241.5 21.5,237.6 17.2,236.2" fill="none" stroke="#7cc6f6" stroke-width="6.5" stroke-linecap="round" filter="url(#glow)"/>
<path d="M15.6,235.7 L20.3,233.4 L18.9,236.3 L19.2,239.6 Z" fill="#7cc6f6" stroke="#7cc6f6" stroke-width="5" filter="url(#glow)"/>
<path d="M54.5,238.8 C50,239.6 46.6,231 42.3,231 C38.4,231 38.6,241.5 35.2,241.5 C32.7,241.5 33.3,234.3 31.4,234.3 C29.4,234.3 29.4,241.5 26.9,241.5 C24.2,241.5 21.5,237.6 17.2,236.2" fill="none" stroke="#56b0f0" stroke-width="3.2" stroke-linecap="round" filter="url(#glow2)"/>
<path d="M54.5,238.8 C50,239.6 46.6,231 42.3,231 C38.4,231 38.6,241.5 35.2,241.5 C32.7,241.5 33.3,234.3 31.4,234.3 C29.4,234.3 29.4,241.5 26.9,241.5 C24.2,241.5 21.5,237.6 17.2,236.2" fill="none" stroke="#1565c8" stroke-width="1.45" stroke-linecap="round"/>
<path d="M15.6,235.7 L20.3,233.4 L18.9,236.3 L19.2,239.6 Z" fill="#1565c8" stroke="#1565c8" stroke-width="0.7" stroke-linejoin="round"/>
</g>
<path d="M213.5,246.5 C214,262 217,269 222.6,270.9" stroke="#1a3a90" stroke-width="1.25" fill="none" marker-end="url(#mb3)"/>
<circle cx="230.4" cy="197.6" r="2.45" fill="#0c0c0c"/>
<circle cx="228.2" cy="202.5" r="2.45" fill="#0c0c0c"/>
<circle cx="233.8" cy="202.5" r="2.45" fill="#0c0c0c"/>
<circle cx="239.4" cy="202.5" r="2.45" fill="#0c0c0c"/>
<circle cx="253.3" cy="191" r="2.45" fill="#0c0c0c"/>
<circle cx="263.6" cy="207.6" r="2.45" fill="#0c0c0c"/>
<circle cx="269" cy="207.6" r="2.45" fill="#0c0c0c"/>
<circle cx="274.4" cy="207.6" r="2.45" fill="#0c0c0c"/>
<path d="M274.3,204.6 C272.5,196 265,191.6 257.3,192.2" stroke="#f0201c" stroke-width="1.25" fill="none" marker-end="url(#mr)"/>
<path d="M250.2,190.4 C244.5,189.3 239.3,192 236.6,197.4" stroke="#f0201c" stroke-width="1.25" fill="none" marker-end="url(#mr)"/>
<path d="M241.8,201.8 C249.5,203.5 252.5,217 248.8,229.8" stroke="#8a3fb5" stroke-width="0.65" fill="none" marker-end="url(#mp2)"/>
<path d="M248,239.2 C253.5,247 255.5,262 245.6,270.7" stroke="#8a3fb5" stroke-width="0.65" fill="none" marker-end="url(#mp2)"/>
<circle cx="245.9" cy="236.3" r="3.2" fill="#868686"/>
<circle cx="228.2" cy="272.7" r="2.15" fill="#fff" stroke="#2a2a2a" stroke-width="0.8"/>
<circle cx="233.5" cy="272.7" r="2.15" fill="#fff" stroke="#2a2a2a" stroke-width="0.8"/>
<circle cx="238.8" cy="272.7" r="2.15" fill="#fff" stroke="#2a2a2a" stroke-width="0.8"/>
<text x="272" y="170.4" font-size="10.4" font-weight="bold" text-anchor="middle" fill="#1f4f9e" class="ss">mitigating electron</text>
<text x="272" y="182.4" font-size="10.4" font-weight="bold" text-anchor="middle" fill="#1f4f9e" class="ss">injection</text>
<text x="297" y="240.5" font-size="10.4" font-weight="bold" text-anchor="middle" fill="#1f4f9e" class="ss">reducing exciton</text>
<text x="297" y="252.5" font-size="10.4" font-weight="bold" text-anchor="middle" fill="#1f4f9e" class="ss">quenching</text>
</g>
<g id="pe">
<line x1="401.3" y1="167" x2="401.3" y2="306" stroke="#8a8a8a" stroke-width="0.8"/>
<line x1="401.3" y1="181.2" x2="405.90000000000003" y2="181.2" stroke="#8a8a8a" stroke-width="0.8"/>
<text x="398" y="183.4" font-size="6.7" font-weight="bold" text-anchor="end" fill="#000" stroke="#000" stroke-width="0.18" class="sf">2</text>
<line x1="401.3" y1="203.9" x2="405.90000000000003" y2="203.9" stroke="#8a8a8a" stroke-width="0.8"/>
<text x="398" y="206.1" font-size="6.7" font-weight="bold" text-anchor="end" fill="#000" stroke="#000" stroke-width="0.18" class="sf">3</text>
<line x1="401.3" y1="226.6" x2="405.90000000000003" y2="226.6" stroke="#8a8a8a" stroke-width="0.8"/>
<text x="398" y="228.8" font-size="6.7" font-weight="bold" text-anchor="end" fill="#000" stroke="#000" stroke-width="0.18" class="sf">4</text>
<line x1="401.3" y1="249.4" x2="405.90000000000003" y2="249.4" stroke="#8a8a8a" stroke-width="0.8"/>
<text x="398" y="251.6" font-size="6.7" font-weight="bold" text-anchor="end" fill="#000" stroke="#000" stroke-width="0.18" class="sf">5</text>
<line x1="401.3" y1="272.1" x2="405.90000000000003" y2="272.1" stroke="#8a8a8a" stroke-width="0.8"/>
<text x="398" y="274.3" font-size="6.7" font-weight="bold" text-anchor="end" fill="#000" stroke="#000" stroke-width="0.18" class="sf">6</text>
<line x1="401.3" y1="294.8" x2="405.90000000000003" y2="294.8" stroke="#8a8a8a" stroke-width="0.8"/>
<text x="398" y="297.0" font-size="6.7" font-weight="bold" text-anchor="end" fill="#000" stroke="#000" stroke-width="0.18" class="sf">7</text>
<text transform="translate(388.2,236.4) rotate(-90)" font-size="7.3" font-weight="bold" text-anchor="middle" fill="#000" stroke="#000" stroke-width="0.18" class="sf">Energy (eV)</text>
<line x1="423.3" y1="246" x2="442.6" y2="246" stroke="#7d62cc" stroke-width="1.1"/>
<text transform="translate(436.2,236.2) rotate(-90)" font-size="7.2" font-weight="bold" text-anchor="middle" fill="#000" stroke="#000" stroke-width="0.18" class="sf">ITO</text>
<line x1="445.8" y1="255.3" x2="465.4" y2="255.3" stroke="#f3c150" stroke-width="1.1"/>
<text transform="translate(457.5,230) rotate(-90)" font-size="7.5" font-weight="bold" text-anchor="middle" fill="#111" class="sf">PEDOT:PSS</text>
<rect x="467.2" y="174.6" width="12.5" height="84.8" fill="#e2e2e2"/>
<text transform="translate(476.4,218.2) rotate(-90)" font-size="7.5" font-weight="bold" text-anchor="middle" fill="#111" class="sf">PVK</text>
<rect x="484.3" y="183.7" width="14.3" height="42" fill="#fdebbd"/>
<rect x="484.3" y="225.7" width="14.3" height="66.5" fill="#fef6e2"/>
<circle cx="487.0" cy="228.8" r="1.6" fill="#b6d9f6"/>
<circle cx="491.7" cy="228.8" r="1.6" fill="#b6d9f6"/>
<circle cx="496.4" cy="228.8" r="1.6" fill="#b6d9f6"/>
<circle cx="487.0" cy="232.9" r="1.6" fill="#b6d9f6"/>
<circle cx="491.7" cy="232.9" r="1.6" fill="#b6d9f6"/>
<circle cx="496.4" cy="232.9" r="1.6" fill="#b6d9f6"/>
<circle cx="487.0" cy="237.0" r="1.6" fill="#b6d9f6"/>
<circle cx="491.7" cy="237.0" r="1.6" fill="#b6d9f6"/>
<circle cx="496.4" cy="237.0" r="1.6" fill="#b6d9f6"/>
<circle cx="487.0" cy="241.0" r="1.6" fill="#b6d9f6"/>
<circle cx="491.7" cy="241.0" r="1.6" fill="#b6d9f6"/>
<circle cx="496.4" cy="241.0" r="1.6" fill="#b6d9f6"/>
<circle cx="487.0" cy="245.1" r="1.6" fill="#b6d9f6"/>
<circle cx="491.7" cy="245.1" r="1.6" fill="#b6d9f6"/>
<circle cx="496.4" cy="245.1" r="1.6" fill="#b6d9f6"/>
<circle cx="487.0" cy="249.2" r="1.6" fill="#b6d9f6"/>
<circle cx="491.7" cy="249.2" r="1.6" fill="#b6d9f6"/>
<circle cx="496.4" cy="249.2" r="1.6" fill="#b6d9f6"/>
<circle cx="487.0" cy="253.3" r="1.6" fill="#b6d9f6"/>
<circle cx="491.7" cy="253.3" r="1.6" fill="#b6d9f6"/>
<circle cx="496.4" cy="253.3" r="1.6" fill="#b6d9f6"/>
<circle cx="487.0" cy="257.4" r="1.6" fill="#b6d9f6"/>
<circle cx="491.7" cy="257.4" r="1.6" fill="#b6d9f6"/>
<circle cx="496.4" cy="257.4" r="1.6" fill="#b6d9f6"/>
<circle cx="487.0" cy="261.4" r="1.6" fill="#b6d9f6"/>
<circle cx="491.7" cy="261.4" r="1.6" fill="#b6d9f6"/>
<circle cx="496.4" cy="261.4" r="1.6" fill="#b6d9f6"/>
<circle cx="487.0" cy="265.5" r="1.6" fill="#b6d9f6"/>
<circle cx="491.7" cy="265.5" r="1.6" fill="#b6d9f6"/>
<circle cx="496.4" cy="265.5" r="1.6" fill="#b6d9f6"/>
<circle cx="487.0" cy="269.6" r="1.6" fill="#b6d9f6"/>
<circle cx="491.7" cy="269.6" r="1.6" fill="#b6d9f6"/>
<circle cx="496.4" cy="269.6" r="1.6" fill="#b6d9f6"/>
<circle cx="487.0" cy="273.7" r="1.6" fill="#b6d9f6"/>
<circle cx="491.7" cy="273.7" r="1.6" fill="#b6d9f6"/>
<circle cx="496.4" cy="273.7" r="1.6" fill="#b6d9f6"/>
<circle cx="487.0" cy="277.8" r="1.6" fill="#b6d9f6"/>
<circle cx="491.7" cy="277.8" r="1.6" fill="#b6d9f6"/>
<circle cx="496.4" cy="277.8" r="1.6" fill="#b6d9f6"/>
<circle cx="487.0" cy="281.8" r="1.6" fill="#b6d9f6"/>
<circle cx="491.7" cy="281.8" r="1.6" fill="#b6d9f6"/>
<circle cx="496.4" cy="281.8" r="1.6" fill="#b6d9f6"/>
<circle cx="487.0" cy="285.9" r="1.6" fill="#b6d9f6"/>
<circle cx="491.7" cy="285.9" r="1.6" fill="#b6d9f6"/>
<circle cx="496.4" cy="285.9" r="1.6" fill="#b6d9f6"/>
<circle cx="487.0" cy="290.0" r="1.6" fill="#b6d9f6"/>
<circle cx="491.7" cy="290.0" r="1.6" fill="#b6d9f6"/>
<circle cx="496.4" cy="290.0" r="1.6" fill="#b6d9f6"/>
<path d="M481.1,220.6 h3.5 v72.4 a1.75,1.75 0 0 1 -3.5,0 z" fill="#fff" stroke="#7f8cae" stroke-width="0.7"/>
<path d="M498.2,220.6 h3.5 v72.4 a1.75,1.75 0 0 1 -3.5,0 z" fill="#fff" stroke="#7f8cae" stroke-width="0.7"/>
<text transform="translate(493.8,258.4) rotate(-90)" font-size="7.6" font-weight="bold" text-anchor="middle" fill="#111" class="sf">Hybrid QDs</text>
<circle cx="506.4" cy="224.8" r="1.8" fill="#c1e6b5"/>
<circle cx="511.3" cy="224.8" r="1.8" fill="#c1e6b5"/>
<circle cx="516.2" cy="224.8" r="1.8" fill="#c1e6b5"/>
<circle cx="521.1" cy="224.8" r="1.8" fill="#c1e6b5"/>
<circle cx="506.4" cy="228.9" r="1.8" fill="#c1e6b5"/>
<circle cx="511.3" cy="228.9" r="1.8" fill="#c1e6b5"/>
<circle cx="516.2" cy="228.9" r="1.8" fill="#c1e6b5"/>
<circle cx="521.1" cy="228.9" r="1.8" fill="#c1e6b5"/>
<circle cx="506.4" cy="232.9" r="1.8" fill="#c1e6b5"/>
<circle cx="511.3" cy="232.9" r="1.8" fill="#c1e6b5"/>
<circle cx="516.2" cy="232.9" r="1.8" fill="#c1e6b5"/>
<circle cx="521.1" cy="232.9" r="1.8" fill="#c1e6b5"/>
<circle cx="506.4" cy="237.0" r="1.8" fill="#c1e6b5"/>
<circle cx="511.3" cy="237.0" r="1.8" fill="#c1e6b5"/>
<circle cx="516.2" cy="237.0" r="1.8" fill="#c1e6b5"/>
<circle cx="521.1" cy="237.0" r="1.8" fill="#c1e6b5"/>
<circle cx="506.4" cy="241.0" r="1.8" fill="#c1e6b5"/>
<circle cx="511.3" cy="241.0" r="1.8" fill="#c1e6b5"/>
<circle cx="516.2" cy="241.0" r="1.8" fill="#c1e6b5"/>
<circle cx="521.1" cy="241.0" r="1.8" fill="#c1e6b5"/>
<circle cx="506.4" cy="245.1" r="1.8" fill="#c1e6b5"/>
<circle cx="511.3" cy="245.1" r="1.8" fill="#c1e6b5"/>
<circle cx="516.2" cy="245.1" r="1.8" fill="#c1e6b5"/>
<circle cx="521.1" cy="245.1" r="1.8" fill="#c1e6b5"/>
<circle cx="506.4" cy="249.2" r="1.8" fill="#c1e6b5"/>
<circle cx="511.3" cy="249.2" r="1.8" fill="#c1e6b5"/>
<circle cx="516.2" cy="249.2" r="1.8" fill="#c1e6b5"/>
<circle cx="521.1" cy="249.2" r="1.8" fill="#c1e6b5"/>
<circle cx="506.4" cy="253.2" r="1.8" fill="#c1e6b5"/>
<circle cx="511.3" cy="253.2" r="1.8" fill="#c1e6b5"/>
<circle cx="516.2" cy="253.2" r="1.8" fill="#c1e6b5"/>
<circle cx="521.1" cy="253.2" r="1.8" fill="#c1e6b5"/>
<circle cx="506.4" cy="257.3" r="1.8" fill="#c1e6b5"/>
<circle cx="511.3" cy="257.3" r="1.8" fill="#c1e6b5"/>
<circle cx="516.2" cy="257.3" r="1.8" fill="#c1e6b5"/>
<circle cx="521.1" cy="257.3" r="1.8" fill="#c1e6b5"/>
<circle cx="506.4" cy="261.3" r="1.8" fill="#c1e6b5"/>
<circle cx="511.3" cy="261.3" r="1.8" fill="#c1e6b5"/>
<circle cx="516.2" cy="261.3" r="1.8" fill="#c1e6b5"/>
<circle cx="521.1" cy="261.3" r="1.8" fill="#c1e6b5"/>
<circle cx="506.4" cy="265.4" r="1.8" fill="#c1e6b5"/>
<circle cx="511.3" cy="265.4" r="1.8" fill="#c1e6b5"/>
<circle cx="516.2" cy="265.4" r="1.8" fill="#c1e6b5"/>
<circle cx="521.1" cy="265.4" r="1.8" fill="#c1e6b5"/>
<circle cx="506.4" cy="269.5" r="1.8" fill="#c1e6b5"/>
<circle cx="511.3" cy="269.5" r="1.8" fill="#c1e6b5"/>
<circle cx="516.2" cy="269.5" r="1.8" fill="#c1e6b5"/>
<circle cx="521.1" cy="269.5" r="1.8" fill="#c1e6b5"/>
<circle cx="506.4" cy="273.5" r="1.8" fill="#c1e6b5"/>
<circle cx="511.3" cy="273.5" r="1.8" fill="#c1e6b5"/>
<circle cx="516.2" cy="273.5" r="1.8" fill="#c1e6b5"/>
<circle cx="521.1" cy="273.5" r="1.8" fill="#c1e6b5"/>
<circle cx="506.4" cy="277.6" r="1.8" fill="#c1e6b5"/>
<circle cx="511.3" cy="277.6" r="1.8" fill="#c1e6b5"/>
<circle cx="516.2" cy="277.6" r="1.8" fill="#c1e6b5"/>
<circle cx="521.1" cy="277.6" r="1.8" fill="#c1e6b5"/>
<circle cx="506.4" cy="281.6" r="1.8" fill="#c1e6b5"/>
<circle cx="511.3" cy="281.6" r="1.8" fill="#c1e6b5"/>
<circle cx="516.2" cy="281.6" r="1.8" fill="#c1e6b5"/>
<circle cx="521.1" cy="281.6" r="1.8" fill="#c1e6b5"/>
<circle cx="506.4" cy="285.7" r="1.8" fill="#c1e6b5"/>
<circle cx="511.3" cy="285.7" r="1.8" fill="#c1e6b5"/>
<circle cx="516.2" cy="285.7" r="1.8" fill="#c1e6b5"/>
<circle cx="521.1" cy="285.7" r="1.8" fill="#c1e6b5"/>
<circle cx="506.4" cy="289.8" r="1.8" fill="#c1e6b5"/>
<circle cx="511.3" cy="289.8" r="1.8" fill="#c1e6b5"/>
<circle cx="516.2" cy="289.8" r="1.8" fill="#c1e6b5"/>
<circle cx="521.1" cy="289.8" r="1.8" fill="#c1e6b5"/>
<circle cx="506.4" cy="293.8" r="1.8" fill="#c1e6b5"/>
<circle cx="511.3" cy="293.8" r="1.8" fill="#c1e6b5"/>
<circle cx="516.2" cy="293.8" r="1.8" fill="#c1e6b5"/>
<circle cx="521.1" cy="293.8" r="1.8" fill="#c1e6b5"/>
<circle cx="506.4" cy="297.9" r="1.8" fill="#c1e6b5"/>
<circle cx="511.3" cy="297.9" r="1.8" fill="#c1e6b5"/>
<circle cx="516.2" cy="297.9" r="1.8" fill="#c1e6b5"/>
<circle cx="521.1" cy="297.9" r="1.8" fill="#c1e6b5"/>
<circle cx="506.4" cy="301.9" r="1.8" fill="#c1e6b5"/>
<circle cx="511.3" cy="301.9" r="1.8" fill="#c1e6b5"/>
<circle cx="516.2" cy="301.9" r="1.8" fill="#c1e6b5"/>
<circle cx="521.1" cy="301.9" r="1.8" fill="#c1e6b5"/>
<circle cx="506.4" cy="306.0" r="1.8" fill="#c1e6b5"/>
<circle cx="511.3" cy="306.0" r="1.8" fill="#c1e6b5"/>
<circle cx="516.2" cy="306.0" r="1.8" fill="#c1e6b5"/>
<circle cx="521.1" cy="306.0" r="1.8" fill="#c1e6b5"/>
<text transform="translate(514.9,263) rotate(-90)" font-size="7.4" font-weight="bold" text-anchor="middle" fill="#111" class="sf">ZnMgO NPs</text>
<line x1="526.8" y1="232.7" x2="546.5" y2="232.7" stroke="#777" stroke-width="0.9"/>
<text transform="translate(539.8,225.4) rotate(-90)" font-size="7.3" font-weight="bold" text-anchor="middle" fill="#000" stroke="#000" stroke-width="0.2" class="sf">Al</text>
<path d="M508,185V221" stroke="#1c78c2" stroke-width="1.0" marker-start="url(#me)" marker-end="url(#me)" fill="none"/>
<text x="511.3" y="203.6" font-size="4.8" font-weight="bold" fill="#000" stroke="#000" stroke-width="0.22" class="sf">Electron</text>
<text x="511.3" y="210.3" font-size="4.8" font-weight="bold" fill="#000" stroke="#000" stroke-width="0.22" class="sf">injection</text>
<text x="511.3" y="217.0" font-size="4.8" font-weight="bold" fill="#000" stroke="#000" stroke-width="0.22" class="sf">barrier</text>
<path d="M477.6,262.4V293" stroke="#1c78c2" stroke-width="1.0" marker-start="url(#me)" marker-end="url(#me)" fill="none"/>
<text x="475.3" y="272.8" font-size="4.8" font-weight="bold" text-anchor="end" fill="#000" stroke="#000" stroke-width="0.22" class="sf">Hole injection</text>
<text x="475.3" y="280" font-size="4.8" font-weight="bold" text-anchor="end" fill="#000" stroke="#000" stroke-width="0.22" class="sf">barrier</text>
</g>
<text x="3.9" y="16" font-size="16" font-weight="bold" fill="#111" class="sf">a)</text>
<text x="176.6" y="16" font-size="16" font-weight="bold" fill="#111" class="sf">b)</text>
<text x="377.4" y="17.1" font-size="16" font-weight="bold" fill="#111" class="sf">c)</text>
<text x="5.8" y="171.2" font-size="16" font-weight="bold" fill="#111" class="sf">d)</text>
<text x="376.8" y="171.6" font-size="16" font-weight="bold" fill="#111" class="sf">e)</text>
</svg>
</body></html>
